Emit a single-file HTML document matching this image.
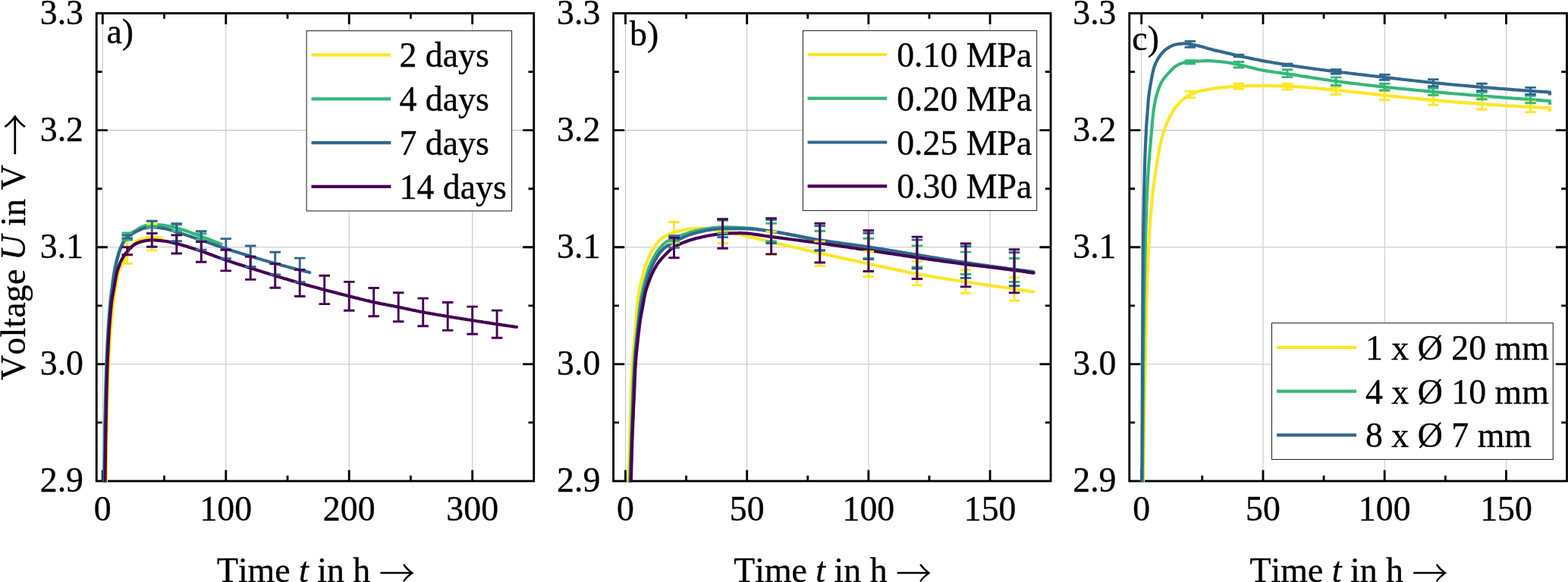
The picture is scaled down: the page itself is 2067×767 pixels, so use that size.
<!DOCTYPE html>
<html lang="en"><head><meta charset="utf-8"><title>Voltage over time</title>
<style>html,body{margin:0;padding:0;background:#fff;overflow:hidden}svg{display:block}text{font-family:"Liberation Serif","DejaVu Serif",serif;font-size:45.83px;fill:#000;font-kerning:none;stroke:#000;stroke-width:0.35px;stroke-linejoin:round}.sp{stroke:#000;stroke-width:2.85;fill:none;stroke-linecap:square}.tk{stroke:#000;stroke-width:2.85;fill:none;stroke-linecap:butt}.gr{stroke:#c4c4c4;stroke-width:1.05;fill:none}.cv{fill:none;stroke-width:4.17;stroke-linecap:round;stroke-linejoin:round}.hk{fill:none;stroke-width:4.17;stroke-linecap:butt}.eb{fill:none;stroke-width:2.90;stroke-linecap:butt}.lg{fill:#fff;stroke:#262626;stroke-width:1.05}.ll{fill:none;stroke-width:4.17;stroke-linecap:square}.ar{font-family:"Noto Serif CJK SC","DejaVu Math TeX Gyre","DejaVu Serif",serif;stroke:#000;stroke-width:0.3px;font-size:47px}.ar2{font-size:55.5px}</style></head><body>
<svg width="2067" height="767" viewBox="0 0 2067 767">
<rect width="2067" height="767" fill="#fff"/>
<defs>
<clipPath id="clip-a"><rect x="127.25" y="17.5" width="576.5" height="617.9"/></clipPath>
<clipPath id="clip-b"><rect x="808.6" y="17.5" width="576.5" height="617.9"/></clipPath>
<clipPath id="clip-c"><rect x="1488.8" y="17.5" width="576.7" height="617.9"/></clipPath>
</defs>
<g id="panel-a">
<path class="gr" d="M135.3,17.5V634.0M297.8,17.5V634.0M460.2,17.5V634.0M622.7,17.5V634.0M127.25,479.9H703.8M127.25,325.7H703.8M127.25,171.6H703.8"/>
<path class="tk" d="M135.3,634.0v-14.6M135.3,17.5v14.6M297.8,634.0v-14.6M297.8,17.5v14.6M460.2,634.0v-14.6M460.2,17.5v14.6M622.7,634.0v-14.6M622.7,17.5v14.6M216.5,634.0v-7.3M216.5,17.5v7.3M379.0,634.0v-7.3M379.0,17.5v7.3M541.4,634.0v-7.3M541.4,17.5v7.3M127.25,479.9h14.6M703.8,479.9h-14.6M127.25,325.7h14.6M703.8,325.7h-14.6M127.25,171.6h14.6M703.8,171.6h-14.6M127.25,556.9h7.3M703.8,556.9h-7.3M127.25,402.8h7.3M703.8,402.8h-7.3M127.25,248.7h7.3M703.8,248.7h-7.3M127.25,94.6h7.3M703.8,94.6h-7.3"/>
<rect class="sp" x="127.25" y="17.5" width="576.5" height="616.5"/>
<g clip-path="url(#clip-a)">
<path class="cv" stroke="#fde725" d="M140.0,640.0 L140.0,639.1 L140.0,638.2 L140.0,637.3 L140.0,636.4 L140.0,635.4 L140.0,634.5 L140.0,633.6 L140.0,632.7 L140.0,631.8 L140.0,630.9 L140.0,630.0 L140.0,629.1 L140.0,628.1 L140.0,627.2 L140.0,626.3 L140.0,625.4 L140.0,624.5 L140.0,623.6 L140.1,622.7 L140.1,621.8 L140.1,620.8 L140.1,619.9 L140.1,619.0 L140.1,618.1 L140.1,617.2 L140.1,616.3 L140.1,615.4 L140.1,614.5 L140.1,613.6 L140.1,612.6 L140.1,611.7 L140.1,610.8 L140.1,609.9 L140.2,609.0 L140.2,608.1 L140.2,607.2 L140.2,606.3 L140.2,605.3 L140.2,604.4 L140.2,603.5 L140.2,602.6 L140.2,601.7 L140.2,600.8 L140.3,599.9 L140.3,599.0 L140.3,598.0 L140.3,597.1 L140.3,596.2 L140.3,595.3 L140.3,594.4 L140.3,593.5 L140.3,592.6 L140.3,591.7 L140.4,590.8 L140.4,589.8 L140.4,588.9 L140.4,588.0 L140.4,587.1 L140.4,586.2 L140.4,585.3 L140.4,584.4 L140.5,583.5 L140.5,582.5 L140.5,581.6 L140.5,580.7 L140.5,579.8 L140.5,578.9 L140.5,578.0 L140.5,577.1 L140.6,576.2 L140.6,575.2 L140.6,574.3 L140.6,573.4 L140.6,572.5 L140.6,571.6 L140.6,570.7 L140.7,569.8 L140.7,568.9 L140.7,568.0 L140.7,567.0 L140.7,566.1 L140.7,565.2 L140.7,564.3 L140.7,563.4 L140.8,562.5 L140.8,561.6 L140.8,560.7 L140.8,559.7 L140.8,558.8 L140.8,557.9 L140.8,557.0 L140.9,556.1 L140.9,555.2 L140.9,554.3 L140.9,553.4 L140.9,552.5 L140.9,551.5 L141.0,550.6 L141.0,549.7 L141.0,548.8 L141.0,547.9 L141.0,547.0 L141.0,546.1 L141.1,545.2 L141.1,544.2 L141.1,543.3 L141.1,542.4 L141.1,541.5 L141.2,540.6 L141.2,539.7 L141.2,538.8 L141.2,537.9 L141.3,537.0 L141.3,536.0 L141.3,535.1 L141.3,534.2 L141.3,533.3 L141.4,532.4 L141.4,531.5 L141.4,530.6 L141.4,529.7 L141.5,528.7 L141.5,527.8 L141.5,526.9 L141.5,526.0 L141.6,525.1 L141.6,524.2 L141.6,523.3 L141.7,522.4 L141.7,521.4 L141.7,520.5 L141.7,519.6 L141.8,518.7 L141.8,517.8 L141.8,516.9 L141.8,516.0 L141.9,515.1 L141.9,514.2 L141.9,513.2 L142.0,512.3 L142.0,511.4 L142.0,510.5 L142.1,509.6 L142.1,508.7 L142.1,507.8 L142.2,506.9 L142.2,506.0 L142.2,505.0 L142.2,504.1 L142.3,503.2 L142.3,502.3 L142.3,501.4 L142.4,500.5 L142.4,499.6 L142.4,498.7 L142.5,497.7 L142.5,496.8 L142.6,495.9 L142.6,495.0 L142.6,494.1 L142.7,493.2 L142.7,492.3 L142.7,491.4 L142.8,490.5 L142.8,489.5 L142.8,488.6 L142.9,487.7 L142.9,486.8 L143.0,485.9 L143.0,485.0 L143.0,484.1 L143.1,483.2 L143.1,482.3 L143.1,481.4 L143.2,480.4 L143.2,479.5 L143.3,478.6 L143.3,477.7 L143.3,476.8 L143.4,475.9 L143.4,475.0 L143.5,474.1 L143.5,473.2 L143.6,472.2 L143.6,471.3 L143.6,470.4 L143.7,469.5 L143.7,468.6 L143.8,467.7 L143.8,466.8 L143.9,465.9 L143.9,465.0 L144.0,464.0 L144.0,463.1 L144.1,462.2 L144.1,461.3 L144.2,460.4 L144.2,459.5 L144.3,458.6 L144.4,457.7 L144.4,456.8 L144.5,455.8 L144.5,454.9 L144.6,454.0 L144.6,453.1 L144.7,452.2 L144.8,451.3 L144.8,450.4 L144.9,449.5 L144.9,448.6 L145.0,447.6 L145.1,446.7 L145.1,445.8 L145.2,444.9 L145.3,444.0 L145.3,443.1 L145.4,442.2 L145.4,441.3 L145.5,440.4 L145.6,439.5 L145.7,438.5 L145.7,437.6 L145.8,436.7 L145.9,435.8 L145.9,434.9 L146.0,434.0 L146.1,433.1 L146.2,432.2 L146.2,431.3 L146.3,430.4 L146.4,429.4 L146.5,428.5 L146.5,427.6 L146.6,426.7 L146.7,425.8 L146.8,424.9 L146.8,424.0 L146.9,423.1 L147.0,422.2 L147.1,421.3 L147.2,420.4 L147.3,419.4 L147.3,418.5 L147.4,417.6 L147.5,416.7 L147.6,415.8 L147.7,414.9 L147.8,414.0 L147.9,413.1 L147.9,412.2 L148.0,411.3 L148.1,410.4 L148.2,409.5 L148.3,408.6 L148.4,407.7 L148.5,406.7 L148.6,405.8 L148.7,404.9 L148.8,404.0 L148.9,403.1 L149.0,402.2 L149.1,401.3 L149.2,400.4 L149.3,399.5 L149.4,398.6 L149.5,397.7 L149.6,396.8 L149.7,395.9 L149.8,395.0 L150.0,394.1 L150.1,393.2 L150.2,392.3 L150.4,391.4 L150.5,390.5 L150.7,389.6 L150.8,388.7 L151.0,387.8 L151.1,386.9 L151.3,386.0 L151.4,385.1 L151.6,384.2 L151.7,383.3 L151.9,382.4 L152.0,381.5 L152.2,380.6 L152.4,379.7 L152.5,378.8 L152.6,377.9 L152.8,377.0 L152.9,376.1 L153.1,375.2 L153.2,374.2 L153.4,373.3 L153.5,372.4 L153.7,371.5 L153.8,370.6 L154.0,369.7 L154.1,368.8 L154.3,367.9 L154.4,367.0 L154.6,366.1 L154.8,365.2 L155.0,364.3 L155.2,363.4 L155.4,362.6 L155.6,361.7 L155.8,360.8 L156.0,360.0 L156.3,359.1 L156.5,358.2 L156.8,357.4 L157.2,356.6 L157.5,355.7 L157.9,354.9 L158.3,354.0 L158.7,353.2 L159.1,352.4 L159.5,351.6 L159.9,350.7 L160.3,349.9 L160.7,349.1 L161.1,348.3 L161.5,347.4 L161.9,346.6 L162.3,345.8 L162.7,344.9 L163.0,344.1 L163.4,343.2 L163.7,342.4 L164.1,341.5 L164.4,340.7 L164.8,339.8 L165.1,339.0 L165.5,338.1 L165.8,337.3 L166.2,336.5 L166.6,335.7 L167.0,334.9 L167.4,334.1 L167.8,333.3 L168.3,332.5 L168.7,331.7 L169.2,330.9 L169.7,330.1 L170.2,329.3 L170.7,328.4 L171.2,327.6 L171.7,326.8 L172.2,326.0 L172.8,325.2 L173.4,324.4 L173.9,323.6 L174.5,322.9 L175.1,322.2 L175.7,321.5 L176.3,320.8 L176.9,320.2 L177.6,319.6 L178.2,319.0 L178.9,318.5 L179.6,318.0 L180.3,317.6 L181.0,317.2 L181.8,316.9 L182.6,316.5 L183.5,316.2 L184.4,315.8 L185.3,315.5 L186.2,315.3 L187.1,315.0 L188.0,314.8 L188.9,314.5 L189.8,314.3 L190.7,314.2 L191.6,314.0 L192.5,313.8 L193.4,313.6 L194.3,313.4 L195.2,313.3 L196.1,313.1 L197.0,313.0 L197.9,312.9 L198.8,312.9 L199.7,312.8 L200.7,312.8 L201.6,312.8 L202.5,312.8 L203.4,312.8 L204.3,312.8 L205.2,312.9 L206.1,312.9 L207.0,312.9 L207.9,313.0 L208.8,313.0 L209.7,313.1 L210.7,313.2 L211.6,313.3 L212.5,313.5 L213.4,313.6"/>
<path class="cv" stroke="#35b779" d="M137.2,640.0 L137.2,638.8 L137.2,637.7 L137.2,636.5 L137.2,635.3 L137.2,634.2 L137.2,633.0 L137.3,631.9 L137.3,630.7 L137.3,629.5 L137.3,628.4 L137.3,627.2 L137.3,626.0 L137.3,624.9 L137.3,623.7 L137.3,622.5 L137.4,621.4 L137.4,620.2 L137.4,619.0 L137.4,617.9 L137.4,616.7 L137.4,615.6 L137.4,614.4 L137.4,613.2 L137.4,612.1 L137.5,610.9 L137.5,609.7 L137.5,608.6 L137.5,607.4 L137.5,606.2 L137.5,605.1 L137.5,603.9 L137.6,602.8 L137.6,601.6 L137.6,600.4 L137.6,599.3 L137.6,598.1 L137.6,596.9 L137.7,595.8 L137.7,594.6 L137.7,593.4 L137.7,592.3 L137.7,591.1 L137.7,590.0 L137.7,588.8 L137.8,587.6 L137.8,586.5 L137.8,585.3 L137.8,584.1 L137.8,583.0 L137.9,581.8 L137.9,580.6 L137.9,579.5 L137.9,578.3 L137.9,577.2 L137.9,576.0 L138.0,574.8 L138.0,573.7 L138.0,572.5 L138.0,571.3 L138.0,570.2 L138.1,569.0 L138.1,567.8 L138.1,566.7 L138.1,565.5 L138.1,564.3 L138.1,563.2 L138.2,562.0 L138.2,560.9 L138.2,559.7 L138.2,558.5 L138.2,557.4 L138.3,556.2 L138.3,555.0 L138.3,553.9 L138.3,552.7 L138.3,551.5 L138.4,550.4 L138.4,549.2 L138.4,548.1 L138.4,546.9 L138.5,545.7 L138.5,544.6 L138.5,543.4 L138.5,542.2 L138.5,541.1 L138.6,539.9 L138.6,538.7 L138.6,537.6 L138.6,536.4 L138.7,535.3 L138.7,534.1 L138.7,532.9 L138.7,531.8 L138.8,530.6 L138.8,529.4 L138.8,528.3 L138.8,527.1 L138.9,525.9 L138.9,524.8 L138.9,523.6 L139.0,522.5 L139.0,521.3 L139.0,520.1 L139.0,519.0 L139.1,517.8 L139.1,516.6 L139.1,515.5 L139.2,514.3 L139.2,513.1 L139.2,512.0 L139.2,510.8 L139.3,509.7 L139.3,508.5 L139.3,507.3 L139.4,506.2 L139.4,505.0 L139.4,503.8 L139.5,502.7 L139.5,501.5 L139.5,500.3 L139.6,499.2 L139.6,498.0 L139.6,496.9 L139.7,495.7 L139.7,494.5 L139.8,493.4 L139.8,492.2 L139.8,491.0 L139.9,489.9 L139.9,488.7 L139.9,487.5 L140.0,486.4 L140.0,485.2 L140.1,484.1 L140.1,482.9 L140.1,481.7 L140.2,480.6 L140.2,479.4 L140.3,478.2 L140.3,477.1 L140.3,475.9 L140.4,474.8 L140.4,473.6 L140.5,472.4 L140.5,471.3 L140.6,470.1 L140.6,468.9 L140.7,467.8 L140.7,466.6 L140.8,465.5 L140.8,464.3 L140.9,463.1 L140.9,462.0 L141.0,460.8 L141.0,459.6 L141.1,458.5 L141.2,457.3 L141.2,456.1 L141.3,455.0 L141.3,453.8 L141.4,452.7 L141.5,451.5 L141.5,450.3 L141.6,449.2 L141.6,448.0 L141.7,446.8 L141.8,445.7 L141.8,444.5 L141.9,443.4 L142.0,442.2 L142.0,441.0 L142.1,439.9 L142.2,438.7 L142.2,437.5 L142.3,436.4 L142.4,435.2 L142.5,434.1 L142.5,432.9 L142.6,431.7 L142.7,430.6 L142.8,429.4 L142.8,428.2 L142.9,427.1 L143.0,425.9 L143.1,424.8 L143.2,423.6 L143.2,422.4 L143.3,421.3 L143.4,420.1 L143.5,419.0 L143.6,417.8 L143.7,416.6 L143.8,415.5 L143.8,414.3 L143.9,413.2 L144.0,412.0 L144.1,410.8 L144.2,409.7 L144.3,408.5 L144.4,407.4 L144.5,406.2 L144.6,405.0 L144.7,403.9 L144.8,402.7 L144.9,401.6 L145.0,400.4 L145.1,399.2 L145.2,398.1 L145.3,396.9 L145.4,395.8 L145.5,394.6 L145.7,393.5 L145.8,392.3 L145.9,391.1 L146.1,390.0 L146.2,388.8 L146.4,387.7 L146.5,386.5 L146.7,385.4 L146.8,384.2 L147.0,383.1 L147.2,381.9 L147.3,380.8 L147.5,379.6 L147.6,378.4 L147.7,377.3 L147.9,376.1 L148.0,375.0 L148.2,373.8 L148.3,372.7 L148.5,371.5 L148.7,370.4 L148.8,369.2 L149.0,368.1 L149.1,366.9 L149.3,365.7 L149.5,364.6 L149.6,363.4 L149.8,362.3 L150.0,361.1 L150.2,360.0 L150.4,358.9 L150.6,357.7 L150.8,356.6 L151.0,355.4 L151.2,354.3 L151.5,353.1 L151.7,352.0 L151.9,350.8 L152.2,349.7 L152.4,348.6 L152.7,347.4 L152.9,346.3 L153.2,345.2 L153.5,344.0 L153.8,342.9 L154.0,341.8 L154.3,340.6 L154.6,339.5 L154.9,338.4 L155.2,337.3 L155.6,336.2 L155.9,335.0 L156.2,333.9 L156.6,332.8 L156.9,331.7 L157.3,330.6 L157.7,329.5 L158.1,328.4 L158.5,327.3 L159.0,326.2 L159.4,325.2 L159.9,324.1 L160.4,323.1 L160.9,322.0 L161.5,321.0 L162.0,319.9 L162.6,318.9 L163.2,317.8 L163.9,316.8 L164.5,315.9 L165.2,314.9 L165.9,314.0 L166.6,313.1 L167.4,312.2 L168.1,311.4 L168.9,310.6 L169.7,309.9 L170.6,309.1 L171.5,308.4 L172.5,307.7 L173.4,307.1 L174.4,306.4 L175.4,305.8 L176.5,305.1 L177.5,304.5 L178.5,303.9 L179.5,303.3 L180.5,302.7 L181.5,302.1 L182.5,301.5 L183.5,300.8 L184.5,300.2 L185.6,299.7 L186.6,299.1 L187.7,298.6 L188.7,298.2 L189.8,297.9 L190.9,297.6 L192.0,297.3 L193.1,297.0 L194.3,296.7 L195.4,296.5 L196.6,296.2 L197.8,296.1 L198.9,296.0 L200.1,295.9 L201.2,295.9 L202.4,295.9 L203.6,296.0 L204.7,296.0 L205.9,296.1 L207.1,296.2 L208.2,296.2 L209.4,296.3 L210.5,296.4 L211.7,296.6 L212.9,296.7 L214.0,296.8 L215.2,296.9 L216.3,297.0 L217.5,297.2 L218.6,297.3 L219.8,297.5 L220.9,297.7 L222.1,297.9 L223.2,298.2 L224.4,298.4 L225.5,298.7 L226.6,298.9 L227.8,299.2 L228.9,299.5 L230.0,299.8 L231.2,300.1 L232.3,300.3 L233.4,300.6 L234.5,300.9 L235.7,301.2 L236.8,301.5 L237.9,301.9 L239.0,302.2 L240.1,302.6 L241.2,302.9 L242.3,303.3 L243.4,303.6 L244.5,304.0 L245.6,304.4 L246.7,304.8 L247.8,305.2 L248.9,305.6 L250.0,306.0 L251.1,306.4 L252.2,306.8 L253.3,307.2 L254.4,307.6 L255.5,308.0 L256.6,308.4 L257.7,308.8 L258.8,309.2 L259.9,309.6 L261.0,310.1 L262.0,310.5 L263.1,310.9 L264.2,311.3 L265.3,311.7 L266.4,312.1 L267.5,312.5 L268.6,312.9 L269.7,313.3 L270.8,313.7 L271.9,314.1 L273.0,314.5 L274.1,314.9 L275.1,315.3 L276.2,315.7 L277.3,316.2 L278.4,316.6 L279.5,317.0 L280.6,317.4 L281.7,317.8 L282.7,318.3 L283.8,318.7 L284.9,319.1 L286.0,319.5 L287.1,320.0 L288.2,320.4 L289.2,320.8 L290.3,321.3 L291.4,321.7"/>
<path class="cv" stroke="#31688e" d="M137.6,640.0 L137.6,638.5 L137.6,637.1 L137.6,635.6 L137.7,634.1 L137.7,632.7 L137.7,631.2 L137.7,629.8 L137.7,628.3 L137.7,626.8 L137.7,625.4 L137.8,623.9 L137.8,622.4 L137.8,621.0 L137.8,619.5 L137.8,618.1 L137.8,616.6 L137.9,615.1 L137.9,613.7 L137.9,612.2 L137.9,610.7 L137.9,609.3 L137.9,607.8 L138.0,606.3 L138.0,604.9 L138.0,603.4 L138.0,602.0 L138.0,600.5 L138.1,599.0 L138.1,597.6 L138.1,596.1 L138.1,594.6 L138.2,593.2 L138.2,591.7 L138.2,590.3 L138.2,588.8 L138.2,587.3 L138.3,585.9 L138.3,584.4 L138.3,582.9 L138.3,581.5 L138.4,580.0 L138.4,578.6 L138.4,577.1 L138.4,575.6 L138.5,574.2 L138.5,572.7 L138.5,571.2 L138.5,569.8 L138.6,568.3 L138.6,566.9 L138.6,565.4 L138.6,563.9 L138.7,562.5 L138.7,561.0 L138.7,559.5 L138.7,558.1 L138.8,556.6 L138.8,555.1 L138.8,553.7 L138.8,552.2 L138.9,550.8 L138.9,549.3 L138.9,547.8 L139.0,546.4 L139.0,544.9 L139.0,543.4 L139.0,542.0 L139.1,540.5 L139.1,539.1 L139.1,537.6 L139.2,536.1 L139.2,534.7 L139.2,533.2 L139.3,531.7 L139.3,530.3 L139.3,528.8 L139.4,527.4 L139.4,525.9 L139.4,524.4 L139.5,523.0 L139.5,521.5 L139.5,520.0 L139.6,518.6 L139.6,517.1 L139.6,515.6 L139.7,514.2 L139.7,512.7 L139.7,511.3 L139.8,509.8 L139.8,508.3 L139.9,506.9 L139.9,505.4 L139.9,503.9 L140.0,502.5 L140.0,501.0 L140.1,499.6 L140.1,498.1 L140.2,496.6 L140.2,495.2 L140.2,493.7 L140.3,492.2 L140.3,490.8 L140.4,489.3 L140.4,487.9 L140.5,486.4 L140.5,484.9 L140.6,483.5 L140.6,482.0 L140.7,480.6 L140.7,479.1 L140.8,477.6 L140.8,476.2 L140.9,474.7 L141.0,473.2 L141.0,471.8 L141.1,470.3 L141.1,468.9 L141.2,467.4 L141.3,465.9 L141.3,464.5 L141.4,463.0 L141.5,461.5 L141.5,460.1 L141.6,458.6 L141.7,457.2 L141.8,455.7 L141.8,454.2 L141.9,452.8 L142.0,451.3 L142.1,449.9 L142.1,448.4 L142.2,446.9 L142.3,445.5 L142.4,444.0 L142.5,442.5 L142.6,441.1 L142.7,439.6 L142.8,438.2 L142.8,436.7 L142.9,435.2 L143.0,433.8 L143.1,432.3 L143.2,430.9 L143.3,429.4 L143.4,427.9 L143.5,426.5 L143.6,425.0 L143.7,423.6 L143.8,422.1 L143.9,420.6 L144.1,419.2 L144.2,417.7 L144.3,416.3 L144.4,414.8 L144.5,413.3 L144.6,411.9 L144.7,410.4 L144.8,409.0 L145.0,407.5 L145.1,406.1 L145.2,404.6 L145.3,403.1 L145.5,401.7 L145.6,400.2 L145.7,398.8 L145.9,397.3 L146.0,395.9 L146.2,394.4 L146.3,393.0 L146.5,391.5 L146.7,390.1 L146.9,388.6 L147.1,387.1 L147.3,385.7 L147.4,384.2 L147.6,382.8 L147.8,381.3 L148.0,379.9 L148.2,378.4 L148.4,377.0 L148.6,375.5 L148.8,374.1 L149.0,372.6 L149.1,371.2 L149.3,369.7 L149.5,368.3 L149.7,366.8 L150.0,365.4 L150.2,363.9 L150.4,362.5 L150.6,361.1 L150.9,359.6 L151.1,358.2 L151.4,356.7 L151.6,355.3 L151.9,353.8 L152.2,352.4 L152.5,351.0 L152.8,349.5 L153.1,348.1 L153.4,346.7 L153.7,345.2 L154.0,343.8 L154.4,342.4 L154.7,341.0 L155.1,339.6 L155.5,338.2 L155.9,336.7 L156.3,335.3 L156.7,333.9 L157.2,332.5 L157.6,331.1 L158.1,329.7 L158.6,328.3 L159.2,327.0 L159.7,325.7 L160.3,324.3 L160.9,323.0 L161.6,321.7 L162.3,320.3 L163.0,319.0 L163.8,317.7 L164.6,316.4 L165.5,315.2 L166.4,314.1 L167.3,313.0 L168.2,312.1 L169.3,311.2 L170.4,310.3 L171.6,309.5 L172.9,308.7 L174.2,308.0 L175.5,307.3 L176.9,306.6 L178.2,305.9 L179.5,305.2 L180.8,304.6 L182.1,303.9 L183.5,303.3 L184.8,302.6 L186.2,302.0 L187.5,301.5 L188.9,301.1 L190.3,300.7 L191.7,300.4 L193.2,300.2 L194.6,299.9 L196.1,299.7 L197.6,299.5 L199.0,299.4 L200.5,299.4 L201.9,299.4 L203.4,299.5 L204.9,299.6 L206.3,299.7 L207.8,299.9 L209.2,300.0 L210.7,300.2 L212.2,300.4 L213.6,300.6 L215.0,300.9 L216.5,301.1 L217.9,301.3 L219.3,301.6 L220.7,302.0 L222.2,302.4 L223.6,302.8 L225.0,303.2 L226.4,303.7 L227.8,304.1 L229.2,304.6 L230.6,305.1 L232.0,305.5 L233.4,305.9 L234.8,306.4 L236.2,306.8 L237.5,307.2 L238.9,307.7 L240.3,308.1 L241.7,308.6 L243.1,309.0 L244.5,309.5 L245.9,309.9 L247.3,310.4 L248.7,310.9 L250.1,311.3 L251.5,311.8 L252.8,312.3 L254.2,312.7 L255.6,313.2 L257.0,313.7 L258.4,314.1 L259.8,314.6 L261.2,315.1 L262.5,315.5 L263.9,316.0 L265.3,316.5 L266.7,316.9 L268.1,317.4 L269.5,317.9 L270.9,318.4 L272.2,318.8 L273.6,319.3 L275.0,319.8 L276.4,320.3 L277.8,320.8 L279.1,321.3 L280.5,321.7 L281.9,322.2 L283.3,322.7 L284.7,323.2 L286.1,323.7 L287.4,324.2 L288.8,324.6 L290.2,325.1 L291.6,325.6 L293.0,326.1 L294.4,326.5 L295.7,327.0 L297.1,327.4 L298.5,327.9 L299.9,328.4 L301.3,328.8 L302.7,329.3 L304.1,329.7 L305.5,330.1 L306.9,330.6 L308.3,331.0 L309.7,331.5 L311.1,331.9 L312.5,332.3 L313.9,332.8 L315.3,333.2 L316.7,333.6 L318.1,334.1 L319.5,334.5 L320.9,334.9 L322.3,335.3 L323.7,335.8 L325.1,336.2 L326.5,336.6 L327.9,337.0 L329.3,337.5 L330.7,337.9 L332.1,338.3 L333.5,338.7 L334.9,339.1 L336.3,339.6 L337.7,340.0 L339.1,340.4 L340.5,340.8 L341.9,341.2 L343.3,341.6 L344.7,342.0 L346.1,342.4 L347.5,342.9 L348.9,343.3 L350.3,343.7 L351.7,344.1 L353.1,344.5 L354.5,344.9 L355.9,345.3 L357.3,345.7 L358.8,346.1 L360.2,346.5 L361.6,346.9 L363.0,347.2 L364.4,347.6 L365.8,348.0 L367.2,348.4 L368.6,348.8 L370.0,349.2 L371.4,349.6 L372.9,349.9 L374.3,350.3 L375.7,350.7 L377.1,351.1 L378.5,351.5 L379.9,351.8 L381.3,352.2 L382.8,352.6 L384.2,352.9 L385.6,353.3 L387.0,353.7 L388.4,354.0 L389.8,354.4 L391.3,354.8 L392.7,355.1 L394.1,355.5 L395.5,355.9 L396.9,356.2 L398.4,356.6 L399.8,356.9 L401.2,357.3 L402.6,357.6 L404.0,358.0 L405.5,358.3 L406.9,358.7 L408.3,359.0"/>
<path class="cv" stroke="#440154" d="M138.5,640.0 L138.5,637.9 L138.5,635.8 L138.6,633.6 L138.6,631.5 L138.6,629.4 L138.6,627.3 L138.6,625.2 L138.7,623.0 L138.7,620.9 L138.7,618.8 L138.7,616.7 L138.8,614.6 L138.8,612.5 L138.8,610.3 L138.8,608.2 L138.9,606.1 L138.9,604.0 L138.9,601.9 L139.0,599.7 L139.0,597.6 L139.0,595.5 L139.1,593.4 L139.1,591.3 L139.1,589.2 L139.1,587.0 L139.2,584.9 L139.2,582.8 L139.2,580.7 L139.3,578.6 L139.3,576.4 L139.4,574.3 L139.4,572.2 L139.4,570.1 L139.5,568.0 L139.5,565.8 L139.5,563.7 L139.6,561.6 L139.6,559.5 L139.6,557.4 L139.7,555.3 L139.7,553.1 L139.8,551.0 L139.8,548.9 L139.8,546.8 L139.9,544.7 L139.9,542.5 L140.0,540.4 L140.0,538.3 L140.1,536.2 L140.1,534.1 L140.1,531.9 L140.2,529.8 L140.2,527.7 L140.3,525.6 L140.3,523.5 L140.4,521.4 L140.4,519.2 L140.5,517.1 L140.5,515.0 L140.6,512.9 L140.6,510.8 L140.7,508.6 L140.8,506.5 L140.8,504.4 L140.9,502.3 L140.9,500.2 L141.0,498.1 L141.1,495.9 L141.1,493.8 L141.2,491.7 L141.3,489.6 L141.3,487.5 L141.4,485.4 L141.5,483.2 L141.6,481.1 L141.6,479.0 L141.7,476.9 L141.8,474.8 L141.9,472.6 L142.0,470.5 L142.1,468.4 L142.2,466.3 L142.3,464.2 L142.4,462.1 L142.5,459.9 L142.6,457.8 L142.7,455.7 L142.8,453.6 L142.9,451.5 L143.0,449.3 L143.1,447.2 L143.3,445.1 L143.4,443.0 L143.5,440.9 L143.7,438.8 L143.8,436.6 L143.9,434.5 L144.1,432.4 L144.2,430.3 L144.4,428.2 L144.6,426.1 L144.7,423.9 L144.9,421.8 L145.1,419.7 L145.2,417.6 L145.4,415.5 L145.6,413.4 L145.8,411.3 L146.0,409.2 L146.2,407.1 L146.4,405.0 L146.6,402.9 L146.8,400.8 L147.0,398.7 L147.3,396.6 L147.6,394.5 L148.0,392.4 L148.3,390.3 L148.7,388.2 L149.1,386.1 L149.5,384.0 L149.9,381.9 L150.2,379.9 L150.6,377.8 L150.9,375.7 L151.3,373.6 L151.6,371.5 L152.0,369.4 L152.4,367.3 L152.8,365.2 L153.2,363.1 L153.6,361.1 L154.1,359.0 L154.7,357.0 L155.3,355.0 L156.0,352.9 L156.7,350.9 L157.5,348.9 L158.2,347.0 L159.1,345.0 L160.0,343.1 L161.0,341.3 L162.0,339.4 L163.2,337.6 L164.3,335.8 L165.5,334.1 L166.9,332.5 L168.2,330.8 L169.6,329.2 L171.0,327.7 L172.6,326.2 L174.2,324.7 L175.8,323.3 L177.6,322.1 L179.4,321.1 L181.2,320.2 L183.2,319.4 L185.2,318.8 L187.3,318.2 L189.4,317.7 L191.5,317.3 L193.6,317.0 L195.7,316.7 L197.8,316.5 L199.9,316.4 L202.0,316.4 L204.1,316.5 L206.3,316.6 L208.4,316.8 L210.5,317.0 L212.6,317.2 L214.7,317.5 L216.8,317.7 L218.9,318.0 L221.0,318.4 L223.1,318.8 L225.1,319.2 L227.2,319.7 L229.3,320.2 L231.3,320.7 L233.4,321.2 L235.4,321.7 L237.5,322.3 L239.5,322.8 L241.6,323.4 L243.6,324.0 L245.6,324.6 L247.7,325.3 L249.7,325.9 L251.7,326.6 L253.7,327.2 L255.7,327.9 L257.7,328.5 L259.8,329.2 L261.8,329.9 L263.8,330.6 L265.8,331.2 L267.8,331.9 L269.8,332.6 L271.8,333.3 L273.8,334.0 L275.8,334.7 L277.8,335.5 L279.8,336.2 L281.7,336.9 L283.7,337.7 L285.7,338.4 L287.7,339.2 L289.7,339.9 L291.7,340.6 L293.7,341.3 L295.7,342.0 L297.7,342.7 L299.7,343.4 L301.7,344.1 L303.7,344.7 L305.7,345.4 L307.7,346.1 L309.7,346.7 L311.8,347.4 L313.8,348.0 L315.8,348.7 L317.8,349.3 L319.8,350.0 L321.9,350.6 L323.9,351.2 L325.9,351.9 L327.9,352.5 L329.9,353.2 L332.0,353.8 L334.0,354.4 L336.0,355.1 L338.0,355.7 L340.0,356.3 L342.1,357.0 L344.1,357.6 L346.1,358.3 L348.1,358.9 L350.1,359.5 L352.2,360.1 L354.2,360.8 L356.2,361.4 L358.2,362.0 L360.3,362.6 L362.3,363.2 L364.3,363.9 L366.4,364.5 L368.4,365.1 L370.4,365.7 L372.4,366.3 L374.5,366.9 L376.5,367.5 L378.5,368.1 L380.6,368.7 L382.6,369.3 L384.6,369.9 L386.7,370.5 L388.7,371.1 L390.7,371.7 L392.8,372.3 L394.8,372.9 L396.8,373.4 L398.9,374.0 L400.9,374.6 L403.0,375.2 L405.0,375.7 L407.1,376.3 L409.1,376.9 L411.1,377.4 L413.2,378.0 L415.2,378.5 L417.3,379.1 L419.3,379.6 L421.4,380.2 L423.4,380.7 L425.5,381.3 L427.5,381.8 L429.6,382.4 L431.6,382.9 L433.7,383.5 L435.7,384.0 L437.7,384.5 L439.8,385.1 L441.8,385.6 L443.9,386.1 L446.0,386.7 L448.0,387.2 L450.1,387.7 L452.1,388.3 L454.2,388.8 L456.2,389.3 L458.3,389.8 L460.3,390.3 L462.4,390.8 L464.4,391.4 L466.5,391.9 L468.5,392.4 L470.6,392.9 L472.7,393.4 L474.7,393.9 L476.8,394.5 L478.8,395.0 L480.9,395.5 L482.9,396.0 L485.0,396.4 L487.1,396.9 L489.1,397.4 L491.2,397.9 L493.3,398.3 L495.3,398.8 L497.4,399.2 L499.5,399.6 L501.6,400.1 L503.6,400.5 L505.7,400.9 L507.8,401.3 L509.9,401.7 L512.0,402.1 L514.0,402.5 L516.1,402.9 L518.2,403.3 L520.3,403.7 L522.4,404.1 L524.4,404.5 L526.5,405.0 L528.6,405.4 L530.7,405.8 L532.7,406.3 L534.8,406.7 L536.9,407.1 L539.0,407.6 L541.0,408.0 L543.1,408.5 L545.2,408.9 L547.3,409.3 L549.3,409.8 L551.4,410.2 L553.5,410.6 L555.6,411.0 L557.6,411.4 L559.7,411.8 L561.8,412.2 L563.9,412.5 L566.0,412.9 L568.1,413.3 L570.2,413.6 L572.2,414.0 L574.3,414.4 L576.4,414.7 L578.5,415.1 L580.6,415.4 L582.7,415.8 L584.8,416.1 L586.9,416.5 L589.0,416.8 L591.0,417.2 L593.1,417.5 L595.2,417.8 L597.3,418.2 L599.4,418.5 L601.5,418.9 L603.6,419.2 L605.7,419.5 L607.8,419.9 L609.9,420.2 L612.0,420.5 L614.1,420.9 L616.2,421.2 L618.2,421.5 L620.3,421.8 L622.4,422.2 L624.5,422.5 L626.6,422.8 L628.7,423.2 L630.8,423.5 L632.9,423.8 L635.0,424.1 L637.1,424.5 L639.2,424.8 L641.3,425.1 L643.4,425.4 L645.5,425.7 L647.6,426.1 L649.7,426.4 L651.7,426.7 L653.8,427.0 L655.9,427.3 L658.0,427.6 L660.1,427.9 L662.2,428.3 L664.3,428.6 L666.4,428.9 L668.5,429.2 L670.6,429.5 L672.7,429.8 L674.8,430.1 L676.9,430.4 L679.0,430.7 L681.1,431.0"/>
<path class="eb" stroke="#fde725" d="M167.8,315.5V347.3M160.5,315.5h14.5M160.5,347.3h14.5M200.3,295.3V329.9M193.0,295.3h14.5M193.0,329.9h14.5"/>
<path class="eb" stroke="#35b779" d="M167.8,307.0V316.4M160.5,307.0h14.5M160.5,316.4h14.5M200.3,291.5V299.5M193.0,291.5h14.5M193.0,299.5h14.5M232.8,296.0V304.5M225.5,296.0h14.5M225.5,304.5h14.5M265.3,308.0V315.5M258.0,308.0h14.5M258.0,315.5h14.5"/>
<path class="eb" stroke="#31688e" d="M167.8,310.0V314.0M160.5,310.0h14.5M160.5,314.0h14.5M200.3,291.2V307.6M193.0,291.2h14.5M193.0,307.6h14.5M232.8,294.7V317.8M225.5,294.7h14.5M225.5,317.8h14.5M265.3,304.7V329.3M258.0,304.7h14.5M258.0,329.3h14.5M297.8,314.6V340.7M290.5,314.6h14.5M290.5,340.7h14.5M330.2,324.0V351.5M323.0,324.0h14.5M323.0,351.5h14.5M362.7,332.3V362.0M355.5,332.3h14.5M355.5,362.0h14.5M395.2,340.1V371.6M388.0,340.1h14.5M388.0,371.6h14.5"/>
<path class="eb" stroke="#440154" d="M167.8,325.8V335.8M160.5,325.8h14.5M160.5,335.8h14.5M200.3,307.6V325.2M193.0,307.6h14.5M193.0,325.2h14.5M232.8,309.9V334.0M225.5,309.9h14.5M225.5,334.0h14.5M265.3,318.5V345.2M258.0,318.5h14.5M258.0,345.2h14.5M297.8,329.2V356.9M290.5,329.2h14.5M290.5,356.9h14.5M330.2,338.2V368.4M323.0,338.2h14.5M323.0,368.4h14.5M362.7,347.6V379.3M355.5,347.6h14.5M355.5,379.3h14.5M395.2,355.5V390.5M388.0,355.5h14.5M388.0,390.5h14.5M427.7,363.2V400.6M420.5,363.2h14.5M420.5,400.6h14.5M460.2,371.4V409.3M453.0,371.4h14.5M453.0,409.3h14.5M492.7,379.5V416.8M485.4,379.5h14.5M485.4,416.8h14.5M525.2,385.7V423.7M517.9,385.7h14.5M517.9,423.7h14.5M557.7,393.1V429.8M550.4,393.1h14.5M550.4,429.8h14.5M590.2,398.5V435.4M582.9,398.5h14.5M582.9,435.4h14.5M622.7,404.1V440.2M615.4,404.1h14.5M615.4,440.2h14.5M655.1,409.1V445.2M647.9,409.1h14.5M647.9,445.2h14.5"/>
</g>
<text transform="translate(135.3 685.8) scale(1 1.035)" text-anchor="middle">0</text>
<text transform="translate(297.8 685.8) scale(1 1.035)" text-anchor="middle">100</text>
<text transform="translate(460.2 685.8) scale(1 1.035)" text-anchor="middle">200</text>
<text transform="translate(622.7 685.8) scale(1 1.035)" text-anchor="middle">300</text>
<text transform="translate(110.0 648.4) scale(1 1.035)" text-anchor="end">2.9</text>
<text transform="translate(110.0 494.3) scale(1 1.035)" text-anchor="end">3.0</text>
<text transform="translate(110.0 340.1) scale(1 1.035)" text-anchor="end">3.1</text>
<text transform="translate(110.0 186.0) scale(1 1.035)" text-anchor="end">3.2</text>
<text transform="translate(110.0 31.9) scale(1 1.035)" text-anchor="end">3.3</text>
<text transform="translate(140.5 57.0) scale(1 1.02)">a)</text>
<text transform="translate(416.3 766.5) scale(1 1.02)" text-anchor="middle">Time <tspan font-style="italic">t</tspan> in h <tspan class="ar" dy="6.3">→</tspan></text>
<rect class="lg" x="404.1" y="40.6" width="270.5" height="237.4"/>
<path class="ll" stroke="#fde725" d="M412.6,72.4H513.3"/>
<text transform="translate(526.5 88.4) scale(1 1.02)">2 days</text>
<path class="ll" stroke="#35b779" d="M412.6,130.3H513.3"/>
<text transform="translate(526.5 146.3) scale(1 1.02)">4 days</text>
<path class="ll" stroke="#31688e" d="M412.6,188.1H513.3"/>
<text transform="translate(526.5 204.1) scale(1 1.02)">7 days</text>
<path class="ll" stroke="#440154" d="M412.6,245.8H513.3"/>
<text transform="translate(526.5 261.8) scale(1 1.02)">14 days</text>
</g>
<g id="panel-b">
<path class="gr" d="M824.5,17.5V634.0M984.7,17.5V634.0M1144.9,17.5V634.0M1305.1,17.5V634.0M808.6,479.9H1385.1M808.6,325.7H1385.1M808.6,171.6H1385.1"/>
<path class="tk" d="M824.5,634.0v-14.6M824.5,17.5v14.6M984.7,634.0v-14.6M984.7,17.5v14.6M1144.9,634.0v-14.6M1144.9,17.5v14.6M1305.1,634.0v-14.6M1305.1,17.5v14.6M904.6,634.0v-7.3M904.6,17.5v7.3M1064.8,634.0v-7.3M1064.8,17.5v7.3M1225.0,634.0v-7.3M1225.0,17.5v7.3M808.6,479.9h14.6M1385.1,479.9h-14.6M808.6,325.7h14.6M1385.1,325.7h-14.6M808.6,171.6h14.6M1385.1,171.6h-14.6M808.6,556.9h7.3M1385.1,556.9h-7.3M808.6,402.8h7.3M1385.1,402.8h-7.3M808.6,248.7h7.3M1385.1,248.7h-7.3M808.6,94.6h7.3M1385.1,94.6h-7.3"/>
<rect class="sp" x="808.6" y="17.5" width="576.5" height="616.5"/>
<g clip-path="url(#clip-b)">
<path class="cv" stroke="#fde725" d="M827.8,640.0 L828.0,637.9 L828.1,635.8 L828.2,633.7 L828.3,631.7 L828.4,629.6 L828.5,627.5 L828.6,625.4 L828.7,623.3 L828.7,621.2 L828.8,619.1 L828.9,617.0 L829.0,614.9 L829.0,612.9 L829.1,610.8 L829.2,608.7 L829.2,606.6 L829.3,604.5 L829.3,602.4 L829.4,600.3 L829.5,598.2 L829.5,596.1 L829.6,594.0 L829.6,592.0 L829.7,589.9 L829.7,587.8 L829.8,585.7 L829.8,583.6 L829.9,581.5 L829.9,579.4 L830.0,577.3 L830.1,575.2 L830.1,573.1 L830.2,571.1 L830.2,569.0 L830.3,566.9 L830.4,564.8 L830.4,562.7 L830.5,560.6 L830.5,558.5 L830.6,556.4 L830.7,554.3 L830.7,552.2 L830.8,550.2 L830.9,548.1 L830.9,546.0 L831.0,543.9 L831.1,541.8 L831.1,539.7 L831.2,537.6 L831.3,535.5 L831.3,533.4 L831.4,531.3 L831.5,529.3 L831.5,527.2 L831.6,525.1 L831.7,523.0 L831.8,520.9 L831.8,518.8 L831.9,516.7 L832.0,514.6 L832.1,512.5 L832.2,510.5 L832.2,508.4 L832.3,506.3 L832.4,504.2 L832.5,502.1 L832.6,500.0 L832.7,497.9 L832.8,495.8 L832.9,493.7 L833.0,491.7 L833.1,489.6 L833.2,487.5 L833.3,485.4 L833.4,483.3 L833.5,481.2 L833.7,479.1 L833.8,477.0 L833.9,475.0 L834.1,472.9 L834.2,470.8 L834.4,468.7 L834.6,466.6 L834.8,464.5 L835.0,462.5 L835.1,460.4 L835.3,458.3 L835.5,456.2 L835.7,454.1 L835.9,452.0 L836.1,450.0 L836.3,447.9 L836.5,445.8 L836.7,443.7 L836.9,441.6 L837.0,439.5 L837.2,437.5 L837.4,435.4 L837.5,433.3 L837.7,431.2 L837.8,429.1 L838.0,427.0 L838.1,424.9 L838.3,422.8 L838.4,420.8 L838.5,418.7 L838.7,416.6 L838.9,414.5 L839.0,412.4 L839.2,410.3 L839.4,408.3 L839.6,406.2 L839.8,404.1 L840.0,402.0 L840.2,400.0 L840.5,397.9 L840.7,395.8 L841.0,393.7 L841.3,391.7 L841.6,389.6 L842.0,387.5 L842.3,385.5 L842.7,383.4 L843.1,381.4 L843.5,379.3 L843.9,377.2 L844.4,375.2 L844.8,373.1 L845.3,371.1 L845.7,369.1 L846.2,367.0 L846.7,365.0 L847.2,363.0 L847.7,361.0 L848.3,358.9 L848.9,356.9 L849.5,354.9 L850.2,352.9 L850.8,351.0 L851.5,349.0 L852.2,347.0 L853.0,345.1 L853.7,343.1 L854.5,341.2 L855.3,339.2 L856.2,337.3 L857.1,335.4 L858.0,333.5 L859.0,331.6 L859.9,329.8 L861.0,328.1 L862.1,326.3 L863.2,324.5 L864.5,322.7 L865.7,321.0 L867.1,319.3 L868.5,317.7 L869.9,316.3 L871.4,315.0 L873.0,313.8 L874.7,312.6 L876.5,311.5 L878.4,310.4 L880.3,309.4 L882.2,308.4 L884.2,307.6 L886.2,306.9 L888.1,306.3 L890.1,305.7 L892.1,305.2 L894.1,304.7 L896.1,304.2 L898.2,303.8 L900.2,303.3 L902.3,302.9 L904.4,302.5 L906.5,302.1 L908.6,301.8 L910.7,301.5 L912.8,301.3 L914.9,301.1 L917.0,301.0 L919.1,300.9 L921.1,300.9 L923.2,300.9 L925.3,301.0 L927.3,301.2 L929.4,301.4 L931.5,301.6 L933.6,301.8 L935.7,302.1 L937.8,302.4 L939.8,302.7 L941.9,303.1 L944.0,303.4 L946.1,303.8 L948.1,304.1 L950.2,304.4 L952.3,304.8 L954.3,305.1 L956.4,305.4 L958.4,305.8 L960.5,306.1 L962.5,306.5 L964.6,306.9 L966.6,307.3 L968.7,307.7 L970.7,308.2 L972.8,308.6 L974.8,309.0 L976.9,309.5 L978.9,310.0 L980.9,310.4 L983.0,310.9 L985.0,311.4 L987.0,311.9 L989.1,312.4 L991.1,312.9 L993.2,313.3 L995.2,313.8 L997.2,314.3 L999.3,314.8 L1001.3,315.3 L1003.3,315.8 L1005.4,316.3 L1007.4,316.8 L1009.4,317.3 L1011.5,317.8 L1013.5,318.2 L1015.6,318.7 L1017.6,319.1 L1019.6,319.6 L1021.7,320.1 L1023.7,320.5 L1025.8,321.0 L1027.8,321.4 L1029.8,321.9 L1031.9,322.4 L1033.9,322.8 L1035.9,323.3 L1038.0,323.8 L1040.0,324.2 L1042.1,324.7 L1044.1,325.2 L1046.1,325.6 L1048.2,326.1 L1050.2,326.6 L1052.2,327.1 L1054.3,327.5 L1056.3,328.0 L1058.4,328.5 L1060.4,328.9 L1062.4,329.4 L1064.5,329.9 L1066.5,330.3 L1068.6,330.8 L1070.6,331.2 L1072.6,331.7 L1074.7,332.2 L1076.7,332.6 L1078.7,333.1 L1080.8,333.5 L1082.8,334.0 L1084.9,334.5 L1086.9,334.9 L1089.0,335.4 L1091.0,335.8 L1093.0,336.3 L1095.1,336.7 L1097.1,337.2 L1099.2,337.6 L1101.2,338.1 L1103.2,338.5 L1105.3,339.0 L1107.3,339.5 L1109.4,339.9 L1111.4,340.4 L1113.4,340.8 L1115.5,341.3 L1117.5,341.7 L1119.6,342.2 L1121.6,342.6 L1123.7,343.0 L1125.7,343.5 L1127.7,343.9 L1129.8,344.4 L1131.8,344.8 L1133.9,345.3 L1135.9,345.7 L1138.0,346.2 L1140.0,346.6 L1142.0,347.0 L1144.1,347.5 L1146.1,347.9 L1148.2,348.3 L1150.2,348.8 L1152.3,349.2 L1154.3,349.7 L1156.4,350.1 L1158.4,350.5 L1160.4,351.0 L1162.5,351.4 L1164.5,351.9 L1166.6,352.3 L1168.6,352.8 L1170.7,353.2 L1172.7,353.6 L1174.8,354.1 L1176.8,354.5 L1178.8,354.9 L1180.9,355.4 L1182.9,355.8 L1185.0,356.2 L1187.0,356.6 L1189.1,357.1 L1191.1,357.5 L1193.2,357.9 L1195.2,358.3 L1197.3,358.7 L1199.3,359.1 L1201.4,359.5 L1203.4,359.9 L1205.5,360.3 L1207.5,360.7 L1209.6,361.0 L1211.7,361.4 L1213.7,361.8 L1215.8,362.2 L1217.8,362.5 L1219.9,362.9 L1221.9,363.3 L1224.0,363.6 L1226.1,364.0 L1228.1,364.3 L1230.2,364.7 L1232.2,365.0 L1234.3,365.4 L1236.4,365.7 L1238.4,366.0 L1240.5,366.4 L1242.6,366.7 L1244.6,367.0 L1246.7,367.4 L1248.8,367.7 L1250.8,368.0 L1252.9,368.4 L1255.0,368.7 L1257.0,369.0 L1259.1,369.4 L1261.1,369.7 L1263.2,370.0 L1265.3,370.3 L1267.3,370.6 L1269.4,371.0 L1271.5,371.3 L1273.5,371.6 L1275.6,371.9 L1277.7,372.2 L1279.7,372.5 L1281.8,372.9 L1283.9,373.2 L1285.9,373.5 L1288.0,373.8 L1290.1,374.1 L1292.2,374.4 L1294.2,374.7 L1296.3,375.0 L1298.4,375.3 L1300.4,375.6 L1302.5,375.9 L1304.6,376.2 L1306.6,376.4 L1308.7,376.7 L1310.8,377.0 L1312.9,377.3 L1314.9,377.6 L1317.0,377.9 L1319.1,378.2 L1321.1,378.5 L1323.2,378.8 L1325.3,379.1 L1327.3,379.4 L1329.4,379.7 L1331.5,380.0 L1333.5,380.3 L1335.6,380.6 L1337.7,380.9 L1339.8,381.2 L1341.8,381.5 L1343.9,381.8 L1346.0,382.1 L1348.0,382.4 L1350.1,382.7 L1352.2,383.1 L1354.2,383.4 L1356.3,383.7 L1358.4,384.0 L1360.4,384.3 L1362.5,384.6"/>
<path class="cv" stroke="#35b779" d="M830.2,640.0 L830.3,637.9 L830.3,635.9 L830.4,633.8 L830.4,631.8 L830.5,629.7 L830.6,627.6 L830.6,625.6 L830.7,623.5 L830.8,621.5 L830.8,619.4 L830.9,617.3 L830.9,615.3 L831.0,613.2 L831.1,611.2 L831.1,609.1 L831.2,607.0 L831.3,605.0 L831.3,602.9 L831.4,600.9 L831.5,598.8 L831.5,596.7 L831.6,594.7 L831.7,592.6 L831.7,590.6 L831.8,588.5 L831.9,586.4 L831.9,584.4 L832.0,582.3 L832.1,580.3 L832.2,578.2 L832.2,576.1 L832.3,574.1 L832.4,572.0 L832.4,570.0 L832.5,567.9 L832.6,565.8 L832.7,563.8 L832.7,561.7 L832.8,559.7 L832.9,557.6 L833.0,555.5 L833.0,553.5 L833.1,551.4 L833.2,549.4 L833.2,547.3 L833.3,545.2 L833.4,543.2 L833.5,541.1 L833.5,539.1 L833.6,537.0 L833.7,534.9 L833.7,532.9 L833.8,530.8 L833.9,528.8 L833.9,526.7 L834.0,524.6 L834.1,522.6 L834.2,520.5 L834.2,518.5 L834.3,516.4 L834.4,514.3 L834.5,512.3 L834.6,510.2 L834.6,508.2 L834.7,506.1 L834.8,504.0 L834.9,502.0 L835.0,499.9 L835.1,497.9 L835.2,495.8 L835.3,493.7 L835.4,491.7 L835.5,489.6 L835.6,487.6 L835.7,485.5 L835.8,483.5 L835.9,481.4 L836.0,479.4 L836.2,477.3 L836.3,475.2 L836.4,473.2 L836.6,471.1 L836.7,469.1 L836.9,467.0 L837.1,465.0 L837.2,462.9 L837.4,460.9 L837.6,458.8 L837.8,456.8 L838.0,454.7 L838.2,452.7 L838.4,450.6 L838.6,448.5 L838.8,446.5 L839.0,444.4 L839.2,442.4 L839.4,440.3 L839.7,438.3 L839.9,436.2 L840.1,434.2 L840.3,432.1 L840.5,430.1 L840.7,428.0 L841.0,426.0 L841.2,423.9 L841.4,421.9 L841.6,419.8 L841.8,417.8 L842.0,415.7 L842.3,413.7 L842.5,411.6 L842.7,409.6 L842.9,407.5 L843.2,405.5 L843.4,403.4 L843.7,401.4 L844.0,399.4 L844.3,397.3 L844.7,395.3 L845.0,393.3 L845.4,391.2 L845.8,389.2 L846.2,387.2 L846.6,385.2 L847.1,383.2 L847.5,381.2 L848.0,379.1 L848.4,377.1 L848.9,375.1 L849.4,373.1 L849.9,371.1 L850.4,369.1 L851.0,367.2 L851.5,365.2 L852.1,363.2 L852.7,361.2 L853.3,359.2 L853.9,357.2 L854.6,355.3 L855.3,353.3 L856.0,351.4 L856.8,349.5 L857.5,347.6 L858.4,345.8 L859.3,343.9 L860.2,342.0 L861.2,340.2 L862.2,338.3 L863.2,336.5 L864.3,334.8 L865.4,333.0 L866.6,331.3 L867.8,329.7 L869.0,328.1 L870.3,326.5 L871.6,324.9 L873.1,323.3 L874.6,321.8 L876.1,320.5 L877.7,319.2 L879.4,318.1 L881.2,317.2 L883.0,316.3 L885.0,315.4 L886.9,314.6 L888.8,313.8 L890.7,313.1 L892.6,312.3 L894.6,311.5 L896.5,310.8 L898.4,310.1 L900.4,309.3 L902.3,308.6 L904.3,307.9 L906.2,307.3 L908.2,306.6 L910.2,306.0 L912.2,305.5 L914.2,304.9 L916.2,304.4 L918.2,304.0 L920.2,303.6 L922.2,303.2 L924.2,302.8 L926.2,302.4 L928.2,302.0 L930.3,301.7 L932.3,301.3 L934.3,301.0 L936.4,300.7 L938.4,300.4 L940.5,300.1 L942.6,299.9 L944.6,299.7 L946.7,299.5 L948.7,299.4 L950.8,299.3 L952.8,299.3 L954.9,299.3 L957.0,299.3 L959.0,299.4 L961.1,299.4 L963.1,299.5 L965.2,299.5 L967.3,299.6 L969.3,299.7 L971.4,299.8 L973.5,299.9 L975.5,300.0 L977.6,300.1 L979.6,300.2 L981.7,300.3 L983.7,300.5 L985.8,300.6 L987.8,300.7 L989.9,300.9 L991.9,301.1 L994.0,301.4 L996.0,301.6 L998.1,301.9 L1000.1,302.2 L1002.2,302.5 L1004.2,302.8 L1006.2,303.2 L1008.3,303.5 L1010.3,303.8 L1012.4,304.1 L1014.4,304.5 L1016.4,304.8 L1018.5,305.1 L1020.5,305.4 L1022.5,305.8 L1024.6,306.1 L1026.6,306.5 L1028.6,306.9 L1030.6,307.2 L1032.7,307.6 L1034.7,308.0 L1036.7,308.4 L1038.7,308.8 L1040.7,309.2 L1042.8,309.6 L1044.8,310.0 L1046.8,310.4 L1048.8,310.8 L1050.9,311.3 L1052.9,311.7 L1054.9,312.1 L1056.9,312.5 L1058.9,312.9 L1061.0,313.3 L1063.0,313.7 L1065.0,314.2 L1067.0,314.6 L1069.0,315.0 L1071.1,315.3 L1073.1,315.7 L1075.1,316.1 L1077.1,316.5 L1079.2,316.8 L1081.2,317.2 L1083.2,317.6 L1085.3,317.9 L1087.3,318.3 L1089.3,318.6 L1091.4,318.9 L1093.4,319.3 L1095.4,319.6 L1097.5,319.9 L1099.5,320.3 L1101.5,320.6 L1103.6,320.9 L1105.6,321.2 L1107.6,321.6 L1109.7,321.9 L1111.7,322.2 L1113.7,322.5 L1115.8,322.8 L1117.8,323.2 L1119.9,323.5 L1121.9,323.8 L1123.9,324.1 L1126.0,324.4 L1128.0,324.7 L1130.0,325.1 L1132.1,325.4 L1134.1,325.7 L1136.1,326.0 L1138.2,326.3 L1140.2,326.7 L1142.2,327.0 L1144.3,327.3 L1146.3,327.7 L1148.4,328.0 L1150.4,328.3 L1152.4,328.7 L1154.5,329.0 L1156.5,329.4 L1158.5,329.7 L1160.5,330.0 L1162.6,330.4 L1164.6,330.7 L1166.6,331.1 L1168.7,331.4 L1170.7,331.8 L1172.7,332.1 L1174.8,332.5 L1176.8,332.8 L1178.8,333.2 L1180.9,333.5 L1182.9,333.8 L1184.9,334.2 L1187.0,334.5 L1189.0,334.9 L1191.0,335.2 L1193.1,335.5 L1195.1,335.9 L1197.1,336.2 L1199.2,336.5 L1201.2,336.8 L1203.2,337.2 L1205.3,337.5 L1207.3,337.8 L1209.4,338.1 L1211.4,338.4 L1213.4,338.7 L1215.5,339.0 L1217.5,339.3 L1219.5,339.6 L1221.6,339.9 L1223.6,340.1 L1225.7,340.4 L1227.7,340.7 L1229.8,341.0 L1231.8,341.3 L1233.8,341.5 L1235.9,341.8 L1237.9,342.1 L1240.0,342.4 L1242.0,342.6 L1244.1,342.9 L1246.1,343.2 L1248.1,343.4 L1250.2,343.7 L1252.2,344.0 L1254.3,344.3 L1256.3,344.5 L1258.4,344.8 L1260.4,345.1 L1262.4,345.4 L1264.5,345.6 L1266.5,345.9 L1268.6,346.2 L1270.6,346.5 L1272.7,346.8 L1274.7,347.1 L1276.7,347.3 L1278.8,347.6 L1280.8,347.9 L1282.9,348.2 L1284.9,348.5 L1286.9,348.8 L1289.0,349.1 L1291.0,349.4 L1293.0,349.7 L1295.1,350.0 L1297.1,350.3 L1299.2,350.6 L1301.2,350.9 L1303.2,351.2 L1305.3,351.6 L1307.3,351.9 L1309.4,352.2 L1311.4,352.5 L1313.4,352.8 L1315.5,353.0 L1317.5,353.3 L1319.6,353.6 L1321.6,353.9 L1323.6,354.2 L1325.7,354.5 L1327.7,354.8 L1329.8,355.1 L1331.8,355.3 L1333.8,355.6 L1335.9,355.9 L1337.9,356.1 L1340.0,356.4 L1342.0,356.6 L1344.1,356.9 L1346.1,357.1 L1348.2,357.4 L1350.2,357.6 L1352.3,357.8 L1354.3,358.1 L1356.4,358.3 L1358.4,358.5 L1360.5,358.8 L1362.5,359.0"/>
<path class="cv" stroke="#31688e" d="M830.8,640.0 L830.9,638.0 L830.9,635.9 L831.0,633.9 L831.0,631.8 L831.1,629.8 L831.1,627.7 L831.2,625.7 L831.3,623.6 L831.3,621.6 L831.4,619.5 L831.5,617.5 L831.5,615.4 L831.6,613.4 L831.6,611.3 L831.7,609.3 L831.8,607.3 L831.8,605.2 L831.9,603.2 L832.0,601.1 L832.0,599.1 L832.1,597.0 L832.2,595.0 L832.2,592.9 L832.3,590.9 L832.4,588.8 L832.4,586.8 L832.5,584.7 L832.6,582.7 L832.7,580.7 L832.7,578.6 L832.8,576.6 L832.9,574.5 L832.9,572.5 L833.0,570.4 L833.1,568.4 L833.2,566.3 L833.2,564.3 L833.3,562.2 L833.4,560.2 L833.5,558.1 L833.5,556.1 L833.6,554.1 L833.7,552.0 L833.8,550.0 L833.8,547.9 L833.9,545.9 L834.0,543.8 L834.1,541.8 L834.1,539.7 L834.2,537.7 L834.3,535.6 L834.3,533.6 L834.4,531.5 L834.5,529.5 L834.6,527.4 L834.6,525.4 L834.7,523.3 L834.8,521.3 L834.9,519.3 L835.0,517.2 L835.1,515.2 L835.1,513.1 L835.2,511.1 L835.3,509.0 L835.4,507.0 L835.5,504.9 L835.6,502.9 L835.7,500.8 L835.8,498.8 L835.9,496.7 L836.0,494.7 L836.1,492.7 L836.2,490.6 L836.3,488.6 L836.4,486.5 L836.5,484.5 L836.7,482.5 L836.8,480.4 L836.9,478.4 L837.0,476.3 L837.2,474.3 L837.3,472.2 L837.5,470.2 L837.6,468.2 L837.8,466.1 L837.9,464.1 L838.1,462.0 L838.3,460.0 L838.4,457.9 L838.6,455.9 L838.8,453.9 L839.0,451.8 L839.2,449.8 L839.4,447.7 L839.6,445.7 L839.8,443.7 L840.0,441.6 L840.2,439.6 L840.5,437.5 L840.7,435.5 L840.9,433.5 L841.2,431.4 L841.4,429.4 L841.7,427.4 L841.9,425.3 L842.2,423.3 L842.4,421.3 L842.7,419.2 L843.0,417.2 L843.3,415.2 L843.5,413.1 L843.8,411.1 L844.1,409.1 L844.4,407.1 L844.7,405.1 L845.0,403.0 L845.3,401.0 L845.7,399.0 L846.0,397.0 L846.4,395.0 L846.9,393.0 L847.3,391.0 L847.8,389.0 L848.3,387.0 L848.7,385.0 L849.2,383.0 L849.7,381.0 L850.2,379.0 L850.7,377.0 L851.3,375.1 L851.8,373.1 L852.4,371.1 L853.0,369.2 L853.6,367.2 L854.2,365.3 L854.8,363.3 L855.5,361.4 L856.2,359.4 L856.9,357.5 L857.6,355.5 L858.4,353.6 L859.2,351.8 L860.0,349.9 L860.9,348.1 L861.8,346.3 L862.7,344.4 L863.7,342.6 L864.8,340.8 L865.9,339.0 L867.0,337.2 L868.2,335.5 L869.4,333.8 L870.7,332.2 L872.0,330.7 L873.3,329.3 L874.7,327.9 L876.2,326.6 L877.8,325.3 L879.5,324.1 L881.3,323.0 L883.1,321.9 L884.9,320.8 L886.7,319.8 L888.5,318.9 L890.3,317.9 L892.1,317.0 L893.9,316.1 L895.8,315.2 L897.6,314.3 L899.5,313.4 L901.4,312.5 L903.3,311.7 L905.2,310.9 L907.1,310.1 L909.1,309.4 L911.0,308.7 L913.0,308.0 L914.9,307.4 L916.9,306.9 L918.8,306.4 L920.8,305.9 L922.8,305.5 L924.7,305.1 L926.7,304.7 L928.7,304.2 L930.8,303.8 L932.8,303.4 L934.8,303.1 L936.9,302.7 L938.9,302.4 L940.9,302.1 L943.0,301.9 L945.0,301.7 L947.1,301.5 L949.1,301.4 L951.2,301.3 L953.2,301.3 L955.3,301.3 L957.3,301.3 L959.3,301.3 L961.4,301.3 L963.4,301.3 L965.5,301.3 L967.5,301.3 L969.6,301.4 L971.6,301.4 L973.7,301.4 L975.7,301.4 L977.8,301.4 L979.8,301.4 L981.9,301.5 L983.9,301.5 L986.0,301.5 L988.0,301.6 L990.1,301.7 L992.1,301.8 L994.1,302.0 L996.2,302.2 L998.2,302.4 L1000.3,302.7 L1002.3,302.9 L1004.3,303.2 L1006.4,303.4 L1008.4,303.7 L1010.4,304.0 L1012.5,304.3 L1014.5,304.5 L1016.5,304.8 L1018.5,305.1 L1020.6,305.3 L1022.6,305.6 L1024.6,306.0 L1026.6,306.3 L1028.7,306.6 L1030.7,306.9 L1032.7,307.3 L1034.7,307.7 L1036.7,308.0 L1038.7,308.4 L1040.7,308.8 L1042.8,309.2 L1044.8,309.6 L1046.8,309.9 L1048.8,310.3 L1050.8,310.7 L1052.8,311.1 L1054.8,311.5 L1056.8,311.9 L1058.8,312.3 L1060.9,312.7 L1062.9,313.1 L1064.9,313.5 L1066.9,313.9 L1068.9,314.3 L1070.9,314.6 L1072.9,315.0 L1075.0,315.4 L1077.0,315.7 L1079.0,316.0 L1081.0,316.4 L1083.0,316.7 L1085.1,317.0 L1087.1,317.3 L1089.1,317.6 L1091.1,317.9 L1093.2,318.2 L1095.2,318.5 L1097.2,318.8 L1099.2,319.1 L1101.3,319.3 L1103.3,319.6 L1105.3,319.9 L1107.3,320.2 L1109.4,320.5 L1111.4,320.7 L1113.4,321.0 L1115.5,321.3 L1117.5,321.6 L1119.5,321.8 L1121.6,322.1 L1123.6,322.4 L1125.6,322.7 L1127.6,322.9 L1129.7,323.2 L1131.7,323.5 L1133.7,323.8 L1135.8,324.1 L1137.8,324.4 L1139.8,324.7 L1141.8,325.0 L1143.9,325.3 L1145.9,325.6 L1147.9,325.9 L1149.9,326.2 L1151.9,326.5 L1154.0,326.8 L1156.0,327.2 L1158.0,327.5 L1160.0,327.8 L1162.1,328.1 L1164.1,328.4 L1166.1,328.8 L1168.1,329.1 L1170.1,329.4 L1172.2,329.8 L1174.2,330.1 L1176.2,330.4 L1178.2,330.8 L1180.2,331.1 L1182.3,331.4 L1184.3,331.8 L1186.3,332.1 L1188.3,332.4 L1190.3,332.8 L1192.4,333.1 L1194.4,333.4 L1196.4,333.8 L1198.4,334.1 L1200.4,334.4 L1202.5,334.8 L1204.5,335.1 L1206.5,335.4 L1208.5,335.8 L1210.6,336.1 L1212.6,336.4 L1214.6,336.7 L1216.6,337.1 L1218.6,337.4 L1220.7,337.7 L1222.7,338.0 L1224.7,338.4 L1226.7,338.7 L1228.7,339.0 L1230.8,339.4 L1232.8,339.7 L1234.8,340.0 L1236.8,340.3 L1238.8,340.7 L1240.9,341.0 L1242.9,341.3 L1244.9,341.7 L1246.9,342.0 L1249.0,342.3 L1251.0,342.6 L1253.0,342.9 L1255.0,343.3 L1257.0,343.6 L1259.1,343.9 L1261.1,344.2 L1263.1,344.5 L1265.1,344.8 L1267.2,345.1 L1269.2,345.4 L1271.2,345.7 L1273.2,346.0 L1275.3,346.3 L1277.3,346.6 L1279.3,346.9 L1281.3,347.2 L1283.4,347.5 L1285.4,347.8 L1287.4,348.1 L1289.4,348.4 L1291.5,348.7 L1293.5,349.0 L1295.5,349.3 L1297.6,349.5 L1299.6,349.8 L1301.6,350.1 L1303.6,350.4 L1305.7,350.7 L1307.7,350.9 L1309.7,351.2 L1311.8,351.5 L1313.8,351.8 L1315.8,352.1 L1317.8,352.3 L1319.9,352.6 L1321.9,352.9 L1323.9,353.2 L1326.0,353.4 L1328.0,353.7 L1330.0,354.0 L1332.0,354.2 L1334.1,354.5 L1336.1,354.8 L1338.1,355.1 L1340.2,355.3 L1342.2,355.6 L1344.2,355.9 L1346.3,356.1 L1348.3,356.4 L1350.3,356.6 L1352.3,356.9 L1354.4,357.2 L1356.4,357.4 L1358.4,357.7 L1360.5,357.9 L1362.5,358.2"/>
<path class="cv" stroke="#440154" d="M831.5,640.0 L831.6,638.0 L831.7,636.0 L831.8,633.9 L831.9,631.9 L832.0,629.9 L832.0,627.9 L832.1,625.8 L832.2,623.8 L832.2,621.8 L832.3,619.8 L832.3,617.7 L832.4,615.7 L832.4,613.7 L832.5,611.7 L832.5,609.6 L832.6,607.6 L832.7,605.6 L832.7,603.6 L832.8,601.5 L832.8,599.5 L832.9,597.5 L832.9,595.5 L833.0,593.4 L833.1,591.4 L833.1,589.4 L833.2,587.4 L833.3,585.3 L833.3,583.3 L833.4,581.3 L833.5,579.3 L833.5,577.3 L833.6,575.2 L833.7,573.2 L833.8,571.2 L833.8,569.2 L833.9,567.1 L834.0,565.1 L834.1,563.1 L834.2,561.1 L834.2,559.0 L834.3,557.0 L834.4,555.0 L834.5,553.0 L834.6,550.9 L834.7,548.9 L834.8,546.9 L834.9,544.9 L834.9,542.9 L835.0,540.8 L835.1,538.8 L835.2,536.8 L835.3,534.8 L835.4,532.7 L835.5,530.7 L835.6,528.7 L835.7,526.7 L835.8,524.6 L835.9,522.6 L836.0,520.6 L836.1,518.6 L836.2,516.6 L836.2,514.5 L836.3,512.5 L836.4,510.5 L836.5,508.5 L836.6,506.4 L836.6,504.4 L836.7,502.4 L836.8,500.4 L836.9,498.3 L837.0,496.3 L837.1,494.3 L837.2,492.3 L837.2,490.2 L837.3,488.2 L837.4,486.2 L837.6,484.2 L837.7,482.2 L837.8,480.1 L837.9,478.1 L838.1,476.1 L838.2,474.1 L838.4,472.1 L838.5,470.0 L838.7,468.0 L838.9,466.0 L839.1,464.0 L839.3,462.0 L839.5,460.0 L839.7,457.9 L839.9,455.9 L840.1,453.9 L840.4,451.9 L840.6,449.9 L840.8,447.9 L841.0,445.9 L841.3,443.8 L841.5,441.8 L841.7,439.8 L842.0,437.8 L842.2,435.8 L842.4,433.8 L842.7,431.8 L842.9,429.8 L843.2,427.8 L843.5,425.8 L843.7,423.7 L844.0,421.7 L844.3,419.7 L844.7,417.7 L845.0,415.7 L845.4,413.8 L845.7,411.8 L846.1,409.8 L846.5,407.8 L846.9,405.8 L847.3,403.8 L847.7,401.8 L848.0,399.8 L848.4,397.8 L848.7,395.8 L849.0,393.8 L849.4,391.8 L849.8,389.8 L850.2,387.9 L850.6,385.9 L851.1,383.9 L851.7,382.0 L852.3,380.1 L852.9,378.1 L853.6,376.2 L854.2,374.3 L854.9,372.4 L855.7,370.5 L856.4,368.6 L857.1,366.7 L857.9,364.8 L858.7,363.0 L859.5,361.1 L860.4,359.3 L861.3,357.4 L862.2,355.6 L863.2,353.8 L864.2,352.0 L865.2,350.3 L866.2,348.6 L867.3,346.9 L868.5,345.3 L869.8,343.7 L871.1,342.1 L872.4,340.6 L873.8,339.1 L875.2,337.6 L876.6,336.1 L878.0,334.7 L879.4,333.3 L880.9,331.8 L882.4,330.4 L883.9,329.0 L885.5,327.7 L887.1,326.5 L888.8,325.5 L890.5,324.5 L892.2,323.6 L894.0,322.7 L895.8,321.9 L897.6,321.0 L899.5,320.2 L901.4,319.4 L903.3,318.7 L905.3,318.0 L907.2,317.3 L909.2,316.6 L911.2,316.0 L913.1,315.4 L915.1,314.9 L917.1,314.3 L919.0,313.8 L921.0,313.4 L922.9,312.9 L924.9,312.5 L926.9,312.0 L928.9,311.6 L930.8,311.2 L932.8,310.8 L934.8,310.4 L936.8,310.0 L938.9,309.7 L940.9,309.4 L942.9,309.1 L944.9,308.8 L946.9,308.6 L948.9,308.4 L950.9,308.2 L953.0,308.1 L955.0,308.0 L957.0,307.8 L959.0,307.7 L961.0,307.6 L963.1,307.5 L965.1,307.4 L967.1,307.4 L969.2,307.3 L971.2,307.3 L973.2,307.2 L975.2,307.2 L977.2,307.2 L979.3,307.3 L981.3,307.3 L983.3,307.5 L985.3,307.6 L987.3,307.8 L989.3,308.0 L991.3,308.3 L993.3,308.6 L995.4,308.8 L997.4,309.1 L999.4,309.4 L1001.4,309.8 L1003.4,310.1 L1005.4,310.4 L1007.4,310.7 L1009.4,311.0 L1011.4,311.3 L1013.4,311.6 L1015.5,311.9 L1017.5,312.1 L1019.5,312.4 L1021.5,312.6 L1023.5,312.9 L1025.5,313.1 L1027.5,313.4 L1029.5,313.6 L1031.5,313.9 L1033.5,314.2 L1035.5,314.4 L1037.5,314.7 L1039.6,315.0 L1041.6,315.2 L1043.6,315.5 L1045.6,315.7 L1047.6,316.0 L1049.6,316.3 L1051.6,316.5 L1053.6,316.8 L1055.6,317.1 L1057.6,317.4 L1059.6,317.6 L1061.6,317.9 L1063.6,318.2 L1065.7,318.4 L1067.7,318.7 L1069.7,319.0 L1071.7,319.3 L1073.7,319.5 L1075.7,319.8 L1077.7,320.1 L1079.7,320.4 L1081.7,320.7 L1083.7,320.9 L1085.7,321.2 L1087.7,321.5 L1089.7,321.8 L1091.7,322.1 L1093.7,322.3 L1095.7,322.6 L1097.7,322.9 L1099.7,323.2 L1101.8,323.5 L1103.8,323.8 L1105.8,324.1 L1107.8,324.4 L1109.8,324.7 L1111.8,325.0 L1113.8,325.2 L1115.8,325.5 L1117.8,325.8 L1119.8,326.1 L1121.8,326.4 L1123.8,326.7 L1125.8,327.0 L1127.8,327.3 L1129.8,327.6 L1131.8,327.9 L1133.8,328.2 L1135.8,328.5 L1137.8,328.8 L1139.8,329.1 L1141.8,329.4 L1143.8,329.7 L1145.8,330.0 L1147.8,330.3 L1149.8,330.6 L1151.8,330.9 L1153.8,331.2 L1155.9,331.5 L1157.9,331.8 L1159.9,332.1 L1161.9,332.4 L1163.9,332.7 L1165.9,333.0 L1167.9,333.3 L1169.9,333.6 L1171.9,333.9 L1173.9,334.2 L1175.9,334.5 L1177.9,334.8 L1179.9,335.1 L1181.9,335.4 L1183.9,335.7 L1185.9,336.0 L1187.9,336.3 L1189.9,336.6 L1191.9,336.9 L1193.9,337.2 L1195.9,337.5 L1197.9,337.8 L1199.9,338.1 L1201.9,338.4 L1203.9,338.7 L1205.9,339.0 L1207.9,339.3 L1209.9,339.6 L1211.9,339.8 L1213.9,340.1 L1215.9,340.4 L1217.9,340.7 L1220.0,341.0 L1222.0,341.3 L1224.0,341.6 L1226.0,341.8 L1228.0,342.1 L1230.0,342.4 L1232.0,342.7 L1234.0,343.0 L1236.0,343.2 L1238.0,343.5 L1240.0,343.8 L1242.0,344.1 L1244.0,344.4 L1246.0,344.6 L1248.0,344.9 L1250.0,345.2 L1252.1,345.4 L1254.1,345.7 L1256.1,346.0 L1258.1,346.3 L1260.1,346.5 L1262.1,346.8 L1264.1,347.1 L1266.1,347.3 L1268.1,347.6 L1270.1,347.8 L1272.1,348.1 L1274.1,348.4 L1276.1,348.6 L1278.2,348.9 L1280.2,349.1 L1282.2,349.4 L1284.2,349.6 L1286.2,349.8 L1288.2,350.1 L1290.2,350.3 L1292.2,350.6 L1294.2,350.8 L1296.3,351.0 L1298.3,351.3 L1300.3,351.5 L1302.3,351.7 L1304.3,352.0 L1306.3,352.2 L1308.3,352.4 L1310.3,352.7 L1312.3,352.9 L1314.4,353.1 L1316.4,353.4 L1318.4,353.6 L1320.4,353.9 L1322.4,354.1 L1324.4,354.4 L1326.4,354.6 L1328.4,354.9 L1330.4,355.1 L1332.4,355.4 L1334.5,355.7 L1336.5,355.9 L1338.5,356.2 L1340.5,356.5 L1342.5,356.8 L1344.5,357.1 L1346.5,357.3 L1348.5,357.6 L1350.5,357.9 L1352.5,358.2 L1354.5,358.6 L1356.5,358.9 L1358.5,359.2 L1360.5,359.5 L1362.5,359.8"/>
<path class="eb" stroke="#fde725" d="M888.5,292.5V319.9M881.3,292.5h14.5M881.3,319.9h14.5M952.6,289.6V320.5M945.4,289.6h14.5M945.4,320.5h14.5M1016.7,305.2V335.5M1009.4,305.2h14.5M1009.4,335.5h14.5M1080.8,318.1V350.4M1073.5,318.1h14.5M1073.5,350.4h14.5M1144.9,331.4V364.6M1137.6,331.4h14.5M1137.6,364.6h14.5M1208.9,344.7V375.9M1201.7,344.7h14.5M1201.7,375.9h14.5M1273.0,355.8V386.4M1265.8,355.8h14.5M1265.8,386.4h14.5M1337.1,365.7V396.3M1329.8,365.7h14.5M1329.8,396.3h14.5"/>
<path class="eb" stroke="#35b779" d="M888.5,312.0V317.9M881.3,312.0h14.5M881.3,317.9h14.5M952.6,290.5V307.2M945.4,290.5h14.5M945.4,307.2h14.5M1016.7,294.4V317.9M1009.4,294.4h14.5M1009.4,317.9h14.5M1080.8,304.5V329.5M1073.5,304.5h14.5M1073.5,329.5h14.5M1144.9,314.3V340.5M1137.6,314.3h14.5M1137.6,340.5h14.5M1208.9,323.9V352.0M1201.7,323.9h14.5M1201.7,352.0h14.5M1273.0,332.1V361.5M1265.8,332.1h14.5M1265.8,361.5h14.5M1337.1,340.5V371.5M1329.8,340.5h14.5M1329.8,371.5h14.5"/>
<path class="eb" stroke="#31688e" d="M888.5,310.7V326.3M881.3,310.7h14.5M881.3,326.3h14.5M952.6,289.5V312.6M945.4,289.5h14.5M945.4,312.6h14.5M1016.7,289.6V320.5M1009.4,289.6h14.5M1009.4,320.5h14.5M1080.8,297.6V330.3M1073.5,297.6h14.5M1073.5,330.3h14.5M1144.9,307.2V341.6M1137.6,307.2h14.5M1137.6,341.6h14.5M1208.9,316.1V353.8M1201.7,316.1h14.5M1201.7,353.8h14.5M1273.0,324.7V366.4M1265.8,324.7h14.5M1265.8,366.4h14.5M1337.1,332.7V376.8M1329.8,332.7h14.5M1329.8,376.8h14.5"/>
<path class="eb" stroke="#440154" d="M888.5,313.4V339.8M881.3,313.4h14.5M881.3,339.8h14.5M952.6,288.6V327.3M945.4,288.6h14.5M945.4,327.3h14.5M1016.7,287.6V334.9M1009.4,287.6h14.5M1009.4,334.9h14.5M1080.8,294.4V346.0M1073.5,294.4h14.5M1073.5,346.0h14.5M1144.9,303.7V357.5M1137.6,303.7h14.5M1137.6,357.5h14.5M1208.9,312.1V367.5M1201.7,312.1h14.5M1201.7,367.5h14.5M1273.0,321.0V377.9M1265.8,321.0h14.5M1265.8,377.9h14.5M1337.1,328.7V385.9M1329.8,328.7h14.5M1329.8,385.9h14.5"/>
</g>
<text transform="translate(824.5 685.8) scale(1 1.035)" text-anchor="middle">0</text>
<text transform="translate(984.7 685.8) scale(1 1.035)" text-anchor="middle">50</text>
<text transform="translate(1144.9 685.8) scale(1 1.035)" text-anchor="middle">100</text>
<text transform="translate(1305.1 685.8) scale(1 1.035)" text-anchor="middle">150</text>
<text transform="translate(791.3 648.4) scale(1 1.035)" text-anchor="end">2.9</text>
<text transform="translate(791.3 494.3) scale(1 1.035)" text-anchor="end">3.0</text>
<text transform="translate(791.3 340.1) scale(1 1.035)" text-anchor="end">3.1</text>
<text transform="translate(791.3 186.0) scale(1 1.035)" text-anchor="end">3.2</text>
<text transform="translate(791.3 31.9) scale(1 1.035)" text-anchor="end">3.3</text>
<text transform="translate(830.0 59.6) scale(1 1.02)">b)</text>
<text transform="translate(1097.6 766.5) scale(1 1.02)" text-anchor="middle">Time <tspan font-style="italic">t</tspan> in h <tspan class="ar" dy="6.3">→</tspan></text>
<rect class="lg" x="1058.5" y="40.4" width="308.2" height="237.1"/>
<path class="ll" stroke="#fde725" d="M1066.7,72.0H1167.2"/>
<text transform="translate(1182.2 88.0) scale(1 1.02)">0.10 MPa</text>
<path class="ll" stroke="#35b779" d="M1066.7,129.7H1167.2"/>
<text transform="translate(1182.2 145.7) scale(1 1.02)">0.20 MPa</text>
<path class="ll" stroke="#31688e" d="M1066.7,187.5H1167.2"/>
<text transform="translate(1182.2 203.5) scale(1 1.02)">0.25 MPa</text>
<path class="ll" stroke="#440154" d="M1066.7,245.3H1167.2"/>
<text transform="translate(1182.2 261.3) scale(1 1.02)">0.30 MPa</text>
</g>
<g id="panel-c">
<path class="gr" d="M1504.7,17.5V634.0M1665.0,17.5V634.0M1825.2,17.5V634.0M1985.5,17.5V634.0M1488.8,479.9H2065.5M1488.8,325.7H2065.5M1488.8,171.6H2065.5"/>
<path class="tk" d="M1504.7,634.0v-14.6M1504.7,17.5v14.6M1665.0,634.0v-14.6M1665.0,17.5v14.6M1825.2,634.0v-14.6M1825.2,17.5v14.6M1985.5,634.0v-14.6M1985.5,17.5v14.6M1584.8,634.0v-7.3M1584.8,17.5v7.3M1745.1,634.0v-7.3M1745.1,17.5v7.3M1905.4,634.0v-7.3M1905.4,17.5v7.3M1488.8,479.9h14.6M2065.5,479.9h-14.6M1488.8,325.7h14.6M2065.5,325.7h-14.6M1488.8,171.6h14.6M2065.5,171.6h-14.6M1488.8,556.9h7.3M2065.5,556.9h-7.3M1488.8,402.8h7.3M2065.5,402.8h-7.3M1488.8,248.7h7.3M2065.5,248.7h-7.3M1488.8,94.6h7.3M2065.5,94.6h-7.3"/>
<rect class="sp" x="1488.8" y="17.5" width="576.7" height="616.5"/>
<g clip-path="url(#clip-c)">
<path class="cv" stroke="#fde725" d="M1507.0,640.0 L1507.0,637.5 L1507.1,635.0 L1507.1,632.4 L1507.1,629.9 L1507.2,627.4 L1507.2,624.9 L1507.2,622.4 L1507.3,619.8 L1507.3,617.3 L1507.3,614.8 L1507.4,612.3 L1507.4,609.7 L1507.4,607.2 L1507.5,604.7 L1507.5,602.2 L1507.5,599.7 L1507.6,597.1 L1507.6,594.6 L1507.7,592.1 L1507.7,589.6 L1507.7,587.1 L1507.8,584.5 L1507.8,582.0 L1507.8,579.5 L1507.9,577.0 L1507.9,574.5 L1508.0,571.9 L1508.0,569.4 L1508.1,566.9 L1508.1,564.4 L1508.1,561.9 L1508.2,559.3 L1508.2,556.8 L1508.3,554.3 L1508.3,551.8 L1508.4,549.3 L1508.4,546.7 L1508.4,544.2 L1508.5,541.7 L1508.5,539.2 L1508.6,536.6 L1508.6,534.1 L1508.7,531.6 L1508.7,529.1 L1508.8,526.6 L1508.8,524.0 L1508.9,521.5 L1508.9,519.0 L1509.0,516.5 L1509.0,514.0 L1509.1,511.4 L1509.1,508.9 L1509.2,506.4 L1509.2,503.9 L1509.3,501.4 L1509.3,498.8 L1509.4,496.3 L1509.4,493.8 L1509.5,491.3 L1509.5,488.8 L1509.6,486.2 L1509.6,483.7 L1509.7,481.2 L1509.7,478.7 L1509.8,476.2 L1509.8,473.6 L1509.9,471.1 L1509.9,468.6 L1510.0,466.1 L1510.0,463.5 L1510.1,461.0 L1510.1,458.5 L1510.2,456.0 L1510.2,453.5 L1510.3,450.9 L1510.3,448.4 L1510.4,445.9 L1510.4,443.4 L1510.5,440.9 L1510.5,438.3 L1510.6,435.8 L1510.6,433.3 L1510.7,430.8 L1510.8,428.3 L1510.8,425.7 L1510.9,423.2 L1510.9,420.7 L1511.0,418.2 L1511.1,415.7 L1511.1,413.1 L1511.2,410.6 L1511.3,408.1 L1511.3,405.6 L1511.4,403.1 L1511.5,400.5 L1511.5,398.0 L1511.6,395.5 L1511.7,393.0 L1511.7,390.5 L1511.8,387.9 L1511.9,385.4 L1512.0,382.9 L1512.1,380.4 L1512.1,377.9 L1512.2,375.3 L1512.3,372.8 L1512.4,370.3 L1512.5,367.8 L1512.6,365.3 L1512.7,362.7 L1512.7,360.2 L1512.8,357.7 L1512.9,355.2 L1513.0,352.7 L1513.1,350.1 L1513.2,347.6 L1513.3,345.1 L1513.4,342.6 L1513.6,340.1 L1513.7,337.5 L1513.8,335.0 L1513.9,332.5 L1514.0,330.0 L1514.1,327.5 L1514.2,325.0 L1514.4,322.4 L1514.5,319.9 L1514.7,317.4 L1514.8,314.9 L1515.0,312.4 L1515.1,309.9 L1515.3,307.3 L1515.4,304.8 L1515.6,302.3 L1515.8,299.8 L1516.0,297.3 L1516.1,294.8 L1516.3,292.2 L1516.5,289.7 L1516.7,287.2 L1516.9,284.7 L1517.1,282.2 L1517.3,279.7 L1517.5,277.2 L1517.7,274.7 L1518.0,272.1 L1518.2,269.6 L1518.4,267.1 L1518.7,264.6 L1518.9,262.1 L1519.2,259.6 L1519.4,257.1 L1519.7,254.6 L1520.0,252.1 L1520.2,249.6 L1520.5,247.1 L1520.8,244.6 L1521.1,242.1 L1521.5,239.6 L1521.8,237.1 L1522.1,234.6 L1522.5,232.1 L1522.8,229.6 L1523.2,227.1 L1523.5,224.6 L1523.9,222.1 L1524.3,219.6 L1524.7,217.1 L1525.1,214.6 L1525.5,212.1 L1526.0,209.6 L1526.4,207.2 L1526.8,204.7 L1527.3,202.2 L1527.8,199.7 L1528.2,197.2 L1528.7,194.7 L1529.2,192.2 L1529.8,189.8 L1530.3,187.3 L1530.9,184.9 L1531.5,182.4 L1532.1,180.0 L1532.8,177.6 L1533.5,175.1 L1534.2,172.8 L1535.0,170.4 L1535.9,168.0 L1536.8,165.6 L1537.8,163.3 L1538.8,161.0 L1539.8,158.7 L1540.9,156.4 L1542.1,154.2 L1543.2,151.9 L1544.5,149.7 L1545.8,147.5 L1547.1,145.3 L1548.6,143.2 L1550.0,141.2 L1551.6,139.3 L1553.2,137.4 L1554.9,135.5 L1556.7,133.6 L1558.6,131.8 L1560.6,130.1 L1562.6,128.5 L1564.7,127.0 L1566.8,125.8 L1568.9,124.7 L1571.1,123.8 L1573.4,122.9 L1575.7,122.1 L1578.1,121.3 L1580.6,120.5 L1583.1,119.9 L1585.6,119.2 L1588.1,118.7 L1590.6,118.1 L1593.2,117.7 L1595.7,117.2 L1598.2,116.9 L1600.6,116.5 L1603.1,116.2 L1605.6,115.9 L1608.1,115.6 L1610.6,115.3 L1613.1,115.1 L1615.7,114.8 L1618.2,114.6 L1620.7,114.4 L1623.2,114.2 L1625.8,114.0 L1628.3,113.9 L1630.8,113.8 L1633.3,113.7 L1635.8,113.6 L1638.3,113.5 L1640.9,113.4 L1643.4,113.3 L1645.9,113.2 L1648.4,113.2 L1650.9,113.1 L1653.5,113.0 L1656.0,113.0 L1658.5,113.0 L1661.0,112.9 L1663.6,112.9 L1666.1,112.9 L1668.6,112.9 L1671.1,112.9 L1673.6,113.0 L1676.2,113.0 L1678.7,113.1 L1681.2,113.2 L1683.7,113.2 L1686.2,113.3 L1688.8,113.4 L1691.3,113.5 L1693.8,113.6 L1696.3,113.7 L1698.8,113.8 L1701.4,113.9 L1703.9,114.0 L1706.4,114.1 L1708.9,114.3 L1711.4,114.4 L1713.9,114.6 L1716.5,114.8 L1719.0,115.0 L1721.5,115.2 L1724.0,115.4 L1726.5,115.6 L1729.0,115.8 L1731.5,116.0 L1734.0,116.2 L1736.6,116.4 L1739.1,116.7 L1741.6,116.9 L1744.1,117.1 L1746.6,117.4 L1749.1,117.6 L1751.6,117.8 L1754.1,118.1 L1756.7,118.3 L1759.2,118.5 L1761.7,118.8 L1764.2,119.0 L1766.7,119.2 L1769.2,119.5 L1771.7,119.7 L1774.2,120.0 L1776.7,120.3 L1779.2,120.5 L1781.7,120.8 L1784.2,121.1 L1786.7,121.4 L1789.2,121.7 L1791.8,122.0 L1794.3,122.2 L1796.8,122.5 L1799.3,122.8 L1801.8,123.1 L1804.3,123.4 L1806.8,123.7 L1809.3,124.0 L1811.8,124.3 L1814.3,124.5 L1816.8,124.8 L1819.3,125.1 L1821.8,125.4 L1824.3,125.6 L1826.8,125.9 L1829.3,126.1 L1831.8,126.4 L1834.4,126.7 L1836.9,126.9 L1839.4,127.2 L1841.9,127.4 L1844.4,127.7 L1846.9,127.9 L1849.4,128.2 L1851.9,128.5 L1854.4,128.7 L1856.9,129.0 L1859.4,129.2 L1861.9,129.5 L1864.5,129.7 L1867.0,129.9 L1869.5,130.2 L1872.0,130.4 L1874.5,130.7 L1877.0,130.9 L1879.5,131.1 L1882.0,131.4 L1884.5,131.6 L1887.0,131.8 L1889.6,132.0 L1892.1,132.2 L1894.6,132.5 L1897.1,132.7 L1899.6,132.9 L1902.1,133.1 L1904.6,133.3 L1907.1,133.5 L1909.7,133.7 L1912.2,133.9 L1914.7,134.1 L1917.2,134.3 L1919.7,134.5 L1922.2,134.7 L1924.7,134.9 L1927.3,135.1 L1929.8,135.3 L1932.3,135.5 L1934.8,135.7 L1937.3,135.9 L1939.8,136.0 L1942.3,136.2 L1944.9,136.4 L1947.4,136.6 L1949.9,136.8 L1952.4,136.9 L1954.9,137.1 L1957.4,137.3 L1959.9,137.5 L1962.5,137.6 L1965.0,137.8 L1967.5,138.0 L1970.0,138.1 L1972.5,138.3 L1975.0,138.5 L1977.5,138.6 L1980.1,138.8 L1982.6,139.0 L1985.1,139.1 L1987.6,139.3 L1990.1,139.4 L1992.6,139.6 L1995.2,139.7 L1997.7,139.9 L2000.2,140.0 L2002.7,140.2 L2005.2,140.3 L2007.7,140.5 L2010.3,140.6 L2012.8,140.7 L2015.3,140.9 L2017.8,141.0 L2020.3,141.1 L2022.9,141.3 L2025.4,141.4 L2027.9,141.5 L2030.4,141.6 L2032.9,141.8 L2035.4,141.9 L2038.0,142.0 L2040.5,142.1 L2043.0,142.2"/>
<path class="hk" stroke="#fde725" d="M2043.0,142.2v5"/>
<path class="cv" stroke="#35b779" d="M1506.0,640.0 L1506.0,637.3 L1506.0,634.7 L1506.1,632.0 L1506.1,629.4 L1506.1,626.7 L1506.1,624.1 L1506.1,621.4 L1506.1,618.8 L1506.2,616.1 L1506.2,613.4 L1506.2,610.8 L1506.2,608.1 L1506.2,605.5 L1506.3,602.8 L1506.3,600.2 L1506.3,597.5 L1506.3,594.9 L1506.3,592.2 L1506.4,589.5 L1506.4,586.9 L1506.4,584.2 L1506.4,581.6 L1506.4,578.9 L1506.5,576.3 L1506.5,573.6 L1506.5,570.9 L1506.5,568.3 L1506.5,565.6 L1506.6,563.0 L1506.6,560.3 L1506.6,557.7 L1506.6,555.0 L1506.6,552.4 L1506.7,549.7 L1506.7,547.0 L1506.7,544.4 L1506.7,541.7 L1506.8,539.1 L1506.8,536.4 L1506.8,533.8 L1506.8,531.1 L1506.8,528.5 L1506.9,525.8 L1506.9,523.1 L1506.9,520.5 L1506.9,517.8 L1507.0,515.2 L1507.0,512.5 L1507.0,509.9 L1507.0,507.2 L1507.1,504.6 L1507.1,501.9 L1507.1,499.2 L1507.1,496.6 L1507.2,493.9 L1507.2,491.3 L1507.2,488.6 L1507.2,486.0 L1507.3,483.3 L1507.3,480.7 L1507.3,478.0 L1507.3,475.3 L1507.4,472.7 L1507.4,470.0 L1507.4,467.4 L1507.5,464.7 L1507.5,462.1 L1507.5,459.4 L1507.5,456.7 L1507.6,454.1 L1507.6,451.4 L1507.6,448.8 L1507.6,446.1 L1507.7,443.5 L1507.7,440.8 L1507.7,438.2 L1507.8,435.5 L1507.8,432.8 L1507.8,430.2 L1507.9,427.5 L1507.9,424.9 L1507.9,422.2 L1508.0,419.6 L1508.0,416.9 L1508.0,414.3 L1508.1,411.6 L1508.1,408.9 L1508.2,406.3 L1508.2,403.6 L1508.2,401.0 L1508.3,398.3 L1508.3,395.7 L1508.4,393.0 L1508.4,390.4 L1508.5,387.7 L1508.5,385.0 L1508.6,382.4 L1508.6,379.7 L1508.7,377.1 L1508.7,374.4 L1508.8,371.8 L1508.8,369.1 L1508.9,366.5 L1508.9,363.8 L1509.0,361.1 L1509.0,358.5 L1509.1,355.8 L1509.2,353.2 L1509.2,350.5 L1509.3,347.9 L1509.3,345.2 L1509.4,342.6 L1509.5,339.9 L1509.5,337.3 L1509.6,334.6 L1509.7,331.9 L1509.7,329.3 L1509.8,326.6 L1509.9,324.0 L1509.9,321.3 L1510.0,318.7 L1510.1,316.0 L1510.1,313.4 L1510.2,310.7 L1510.3,308.0 L1510.3,305.4 L1510.4,302.7 L1510.5,300.1 L1510.6,297.4 L1510.6,294.8 L1510.7,292.1 L1510.8,289.5 L1510.9,286.8 L1511.0,284.1 L1511.1,281.5 L1511.2,278.8 L1511.3,276.2 L1511.3,273.5 L1511.4,270.9 L1511.5,268.2 L1511.6,265.6 L1511.8,262.9 L1511.9,260.3 L1512.0,257.6 L1512.1,255.0 L1512.2,252.3 L1512.3,249.7 L1512.4,247.0 L1512.6,244.4 L1512.7,241.7 L1512.9,239.0 L1513.0,236.4 L1513.2,233.7 L1513.4,231.1 L1513.5,228.4 L1513.7,225.8 L1513.9,223.1 L1514.1,220.5 L1514.3,217.8 L1514.5,215.2 L1514.7,212.6 L1514.9,209.9 L1515.1,207.3 L1515.3,204.6 L1515.5,202.0 L1515.8,199.3 L1516.0,196.7 L1516.2,194.0 L1516.4,191.4 L1516.7,188.7 L1516.9,186.1 L1517.1,183.4 L1517.4,180.8 L1517.6,178.1 L1517.8,175.5 L1518.1,172.8 L1518.3,170.2 L1518.5,167.6 L1518.7,164.9 L1519.0,162.3 L1519.2,159.6 L1519.4,157.0 L1519.7,154.3 L1520.0,151.7 L1520.3,149.0 L1520.6,146.4 L1521.0,143.8 L1521.4,141.1 L1521.8,138.5 L1522.3,135.9 L1522.8,133.3 L1523.3,130.7 L1523.9,128.1 L1524.6,125.5 L1525.3,123.0 L1526.1,120.4 L1527.0,117.9 L1527.9,115.3 L1529.0,112.9 L1530.1,110.5 L1531.2,108.2 L1532.5,105.9 L1534.1,103.8 L1535.7,101.7 L1537.5,99.6 L1539.3,97.6 L1541.1,95.6 L1542.9,93.6 L1544.7,91.6 L1546.7,89.8 L1548.7,88.1 L1550.8,86.7 L1553.1,85.4 L1555.5,84.2 L1558.1,83.2 L1560.6,82.5 L1563.2,82.0 L1565.8,81.6 L1568.5,81.3 L1571.1,81.1 L1573.8,80.9 L1576.4,80.7 L1579.1,80.6 L1581.7,80.5 L1584.4,80.3 L1587.1,80.3 L1589.7,80.2 L1592.4,80.2 L1595.0,80.2 L1597.7,80.4 L1600.3,80.5 L1603.0,80.7 L1605.6,81.0 L1608.3,81.2 L1610.9,81.5 L1613.6,81.8 L1616.2,82.1 L1618.8,82.5 L1621.4,82.9 L1624.0,83.4 L1626.6,84.0 L1629.3,84.5 L1631.9,85.0 L1634.5,85.6 L1637.1,86.1 L1639.6,86.7 L1642.2,87.3 L1644.8,88.0 L1647.4,88.6 L1650.0,89.3 L1652.5,89.9 L1655.1,90.6 L1657.7,91.2 L1660.3,91.7 L1662.9,92.3 L1665.5,92.8 L1668.1,93.2 L1670.7,93.6 L1673.4,94.0 L1676.0,94.4 L1678.6,94.8 L1681.2,95.2 L1683.9,95.5 L1686.5,95.9 L1689.2,96.2 L1691.8,96.6 L1694.4,97.0 L1697.0,97.3 L1699.7,97.7 L1702.3,98.1 L1704.9,98.5 L1707.6,98.9 L1710.2,99.3 L1712.8,99.7 L1715.4,100.2 L1718.0,100.6 L1720.7,101.0 L1723.3,101.4 L1725.9,101.8 L1728.5,102.2 L1731.2,102.6 L1733.8,103.0 L1736.4,103.4 L1739.0,103.8 L1741.7,104.2 L1744.3,104.6 L1746.9,105.0 L1749.6,105.4 L1752.2,105.8 L1754.8,106.2 L1757.4,106.5 L1760.1,106.9 L1762.7,107.2 L1765.3,107.6 L1768.0,107.9 L1770.6,108.3 L1773.2,108.6 L1775.9,108.9 L1778.5,109.2 L1781.1,109.6 L1783.8,109.9 L1786.4,110.2 L1789.1,110.5 L1791.7,110.8 L1794.3,111.2 L1797.0,111.5 L1799.6,111.8 L1802.2,112.1 L1804.9,112.4 L1807.5,112.7 L1810.2,113.0 L1812.8,113.3 L1815.4,113.6 L1818.1,113.8 L1820.7,114.1 L1823.4,114.4 L1826.0,114.7 L1828.6,115.0 L1831.3,115.3 L1833.9,115.5 L1836.6,115.8 L1839.2,116.1 L1841.9,116.4 L1844.5,116.6 L1847.1,116.9 L1849.8,117.2 L1852.4,117.4 L1855.1,117.7 L1857.7,117.9 L1860.4,118.2 L1863.0,118.4 L1865.6,118.7 L1868.3,119.0 L1870.9,119.2 L1873.6,119.5 L1876.2,119.7 L1878.9,119.9 L1881.5,120.2 L1884.2,120.4 L1886.8,120.7 L1889.4,120.9 L1892.1,121.2 L1894.7,121.4 L1897.4,121.6 L1900.0,121.9 L1902.7,122.1 L1905.3,122.4 L1908.0,122.6 L1910.6,122.8 L1913.3,123.0 L1915.9,123.3 L1918.5,123.5 L1921.2,123.7 L1923.8,124.0 L1926.5,124.2 L1929.1,124.4 L1931.8,124.6 L1934.4,124.9 L1937.1,125.1 L1939.7,125.3 L1942.4,125.5 L1945.0,125.7 L1947.7,125.9 L1950.3,126.2 L1953.0,126.4 L1955.6,126.6 L1958.2,126.8 L1960.9,127.0 L1963.5,127.2 L1966.2,127.4 L1968.8,127.6 L1971.5,127.8 L1974.1,128.0 L1976.8,128.2 L1979.4,128.4 L1982.1,128.6 L1984.7,128.8 L1987.4,129.0 L1990.0,129.2 L1992.7,129.4 L1995.3,129.6 L1998.0,129.8 L2000.6,130.0 L2003.3,130.1 L2005.9,130.3 L2008.6,130.5 L2011.2,130.7 L2013.9,130.9 L2016.5,131.1 L2019.2,131.3 L2021.8,131.5 L2024.5,131.7 L2027.1,131.9 L2029.8,132.1 L2032.4,132.3 L2035.1,132.5 L2037.7,132.7 L2040.4,132.9 L2043.0,133.1"/>
<path class="hk" stroke="#35b779" d="M2043.0,133.1v4.9"/>
<path class="cv" stroke="#31688e" d="M1505.2,640.0 L1505.2,637.3 L1505.2,634.5 L1505.3,631.8 L1505.3,629.0 L1505.3,626.3 L1505.3,623.6 L1505.3,620.8 L1505.3,618.1 L1505.4,615.3 L1505.4,612.6 L1505.4,609.9 L1505.4,607.1 L1505.4,604.4 L1505.4,601.6 L1505.5,598.9 L1505.5,596.2 L1505.5,593.4 L1505.5,590.7 L1505.5,587.9 L1505.5,585.2 L1505.5,582.5 L1505.6,579.7 L1505.6,577.0 L1505.6,574.2 L1505.6,571.5 L1505.6,568.8 L1505.6,566.0 L1505.6,563.3 L1505.6,560.5 L1505.7,557.8 L1505.7,555.1 L1505.7,552.3 L1505.7,549.6 L1505.7,546.8 L1505.7,544.1 L1505.7,541.4 L1505.7,538.6 L1505.7,535.9 L1505.7,533.1 L1505.7,530.4 L1505.8,527.7 L1505.8,524.9 L1505.8,522.2 L1505.8,519.4 L1505.8,516.7 L1505.8,514.0 L1505.8,511.2 L1505.8,508.5 L1505.8,505.7 L1505.8,503.0 L1505.9,500.3 L1505.9,497.5 L1505.9,494.8 L1505.9,492.0 L1505.9,489.3 L1505.9,486.6 L1505.9,483.8 L1505.9,481.1 L1506.0,478.3 L1506.0,475.6 L1506.0,472.9 L1506.0,470.1 L1506.0,467.4 L1506.0,464.6 L1506.1,461.9 L1506.1,459.2 L1506.1,456.4 L1506.1,453.7 L1506.1,450.9 L1506.1,448.2 L1506.2,445.5 L1506.2,442.7 L1506.2,440.0 L1506.2,437.2 L1506.2,434.5 L1506.3,431.8 L1506.3,429.0 L1506.3,426.3 L1506.3,423.5 L1506.3,420.8 L1506.3,418.1 L1506.4,415.3 L1506.4,412.6 L1506.4,409.8 L1506.4,407.1 L1506.4,404.4 L1506.5,401.6 L1506.5,398.9 L1506.5,396.1 L1506.5,393.4 L1506.5,390.7 L1506.5,387.9 L1506.5,385.2 L1506.6,382.4 L1506.6,379.7 L1506.6,377.0 L1506.6,374.2 L1506.6,371.5 L1506.6,368.7 L1506.6,366.0 L1506.7,363.3 L1506.7,360.5 L1506.7,357.8 L1506.7,355.0 L1506.7,352.3 L1506.7,349.6 L1506.8,346.8 L1506.8,344.1 L1506.8,341.3 L1506.8,338.6 L1506.8,335.9 L1506.9,333.1 L1506.9,330.4 L1506.9,327.6 L1506.9,324.9 L1507.0,322.2 L1507.0,319.4 L1507.0,316.7 L1507.1,313.9 L1507.1,311.2 L1507.1,308.5 L1507.2,305.7 L1507.2,303.0 L1507.3,300.2 L1507.3,297.5 L1507.3,294.8 L1507.4,292.0 L1507.4,289.3 L1507.5,286.6 L1507.5,283.8 L1507.6,281.1 L1507.6,278.3 L1507.7,275.6 L1507.7,272.9 L1507.8,270.1 L1507.8,267.4 L1507.9,264.6 L1507.9,261.9 L1508.0,259.2 L1508.1,256.4 L1508.1,253.7 L1508.2,250.9 L1508.2,248.2 L1508.3,245.5 L1508.4,242.7 L1508.4,240.0 L1508.5,237.2 L1508.6,234.5 L1508.6,231.8 L1508.7,229.0 L1508.8,226.3 L1508.9,223.5 L1509.0,220.8 L1509.0,218.1 L1509.1,215.3 L1509.2,212.6 L1509.3,209.8 L1509.4,207.1 L1509.5,204.4 L1509.6,201.6 L1509.7,198.9 L1509.8,196.2 L1509.9,193.4 L1510.0,190.7 L1510.2,187.9 L1510.3,185.2 L1510.4,182.5 L1510.5,179.7 L1510.7,177.0 L1510.8,174.3 L1510.9,171.5 L1511.1,168.8 L1511.2,166.1 L1511.4,163.3 L1511.6,160.6 L1511.8,157.9 L1512.1,155.1 L1512.3,152.4 L1512.5,149.7 L1512.7,146.9 L1512.9,144.2 L1513.1,141.5 L1513.3,138.7 L1513.5,136.0 L1513.7,133.3 L1513.9,130.5 L1514.2,127.8 L1514.5,125.1 L1514.9,122.4 L1515.3,119.7 L1515.7,117.0 L1516.1,114.2 L1516.6,111.5 L1517.1,108.8 L1517.6,106.1 L1518.1,103.4 L1518.6,100.7 L1519.1,98.0 L1519.7,95.3 L1520.3,92.6 L1521.0,90.0 L1521.8,87.5 L1522.8,84.9 L1523.9,82.4 L1525.2,79.9 L1526.5,77.4 L1528.0,75.1 L1529.6,72.9 L1531.2,70.8 L1533.0,68.7 L1535.0,66.7 L1537.2,64.9 L1539.4,63.4 L1541.7,62.0 L1544.2,60.7 L1546.8,59.6 L1549.4,58.8 L1552.0,58.3 L1554.7,57.9 L1557.5,57.6 L1560.2,57.4 L1563.0,57.5 L1565.7,57.8 L1568.4,58.2 L1571.1,58.6 L1573.8,59.1 L1576.5,59.7 L1579.2,60.3 L1581.8,60.9 L1584.5,61.6 L1587.1,62.3 L1589.8,63.1 L1592.4,63.9 L1595.0,64.6 L1597.7,65.3 L1600.3,66.0 L1603.0,66.6 L1605.7,67.2 L1608.3,67.8 L1611.0,68.4 L1613.7,69.0 L1616.4,69.7 L1619.0,70.3 L1621.7,70.9 L1624.4,71.5 L1627.0,72.2 L1629.7,72.9 L1632.3,73.5 L1635.0,74.1 L1637.7,74.7 L1640.4,75.2 L1643.1,75.8 L1645.8,76.3 L1648.4,76.9 L1651.1,77.4 L1653.8,78.0 L1656.5,78.5 L1659.2,79.0 L1661.9,79.6 L1664.6,80.1 L1667.3,80.6 L1670.0,81.1 L1672.7,81.5 L1675.4,82.0 L1678.1,82.5 L1680.8,82.9 L1683.5,83.4 L1686.2,83.8 L1688.9,84.3 L1691.6,84.7 L1694.3,85.2 L1697.0,85.6 L1699.7,86.0 L1702.4,86.4 L1705.1,86.8 L1707.8,87.2 L1710.5,87.6 L1713.2,88.0 L1715.9,88.4 L1718.7,88.8 L1721.4,89.1 L1724.1,89.5 L1726.8,89.9 L1729.5,90.2 L1732.2,90.6 L1735.0,91.0 L1737.7,91.3 L1740.4,91.7 L1743.1,92.0 L1745.8,92.4 L1748.5,92.7 L1751.3,93.1 L1754.0,93.4 L1756.7,93.8 L1759.4,94.1 L1762.1,94.4 L1764.9,94.8 L1767.6,95.1 L1770.3,95.5 L1773.0,95.8 L1775.7,96.1 L1778.5,96.5 L1781.2,96.8 L1783.9,97.1 L1786.6,97.4 L1789.3,97.8 L1792.1,98.1 L1794.8,98.4 L1797.5,98.7 L1800.2,99.0 L1802.9,99.4 L1805.7,99.7 L1808.4,100.0 L1811.1,100.3 L1813.8,100.6 L1816.6,100.9 L1819.3,101.2 L1822.0,101.5 L1824.7,101.9 L1827.4,102.2 L1830.2,102.5 L1832.9,102.8 L1835.6,103.1 L1838.3,103.4 L1841.1,103.7 L1843.8,104.0 L1846.5,104.4 L1849.2,104.7 L1851.9,105.0 L1854.7,105.3 L1857.4,105.6 L1860.1,105.9 L1862.8,106.2 L1865.6,106.5 L1868.3,106.8 L1871.0,107.1 L1873.7,107.4 L1876.5,107.7 L1879.2,108.0 L1881.9,108.3 L1884.6,108.5 L1887.4,108.8 L1890.1,109.1 L1892.8,109.4 L1895.5,109.6 L1898.3,109.9 L1901.0,110.2 L1903.7,110.4 L1906.4,110.7 L1909.2,111.0 L1911.9,111.2 L1914.6,111.5 L1917.4,111.7 L1920.1,112.0 L1922.8,112.2 L1925.5,112.5 L1928.3,112.7 L1931.0,113.0 L1933.7,113.2 L1936.5,113.4 L1939.2,113.7 L1941.9,113.9 L1944.6,114.2 L1947.4,114.4 L1950.1,114.6 L1952.8,114.9 L1955.6,115.1 L1958.3,115.3 L1961.0,115.5 L1963.8,115.7 L1966.5,116.0 L1969.2,116.2 L1971.9,116.4 L1974.7,116.6 L1977.4,116.8 L1980.1,117.0 L1982.9,117.2 L1985.6,117.4 L1988.3,117.7 L1991.1,117.9 L1993.8,118.1 L1996.5,118.3 L1999.3,118.5 L2002.0,118.7 L2004.7,118.9 L2007.5,119.1 L2010.2,119.3 L2012.9,119.5 L2015.7,119.7 L2018.4,119.9 L2021.1,120.1 L2023.9,120.3 L2026.6,120.5 L2029.3,120.6 L2032.1,120.8 L2034.8,121.0 L2037.5,121.2 L2040.3,121.4 L2043.0,121.6"/>
<path class="hk" stroke="#31688e" d="M2043.0,121.6v4"/>
<path class="eb" stroke="#fde725" d="M1568.8,120.4V128.8M1561.6,120.4h14.5M1561.6,128.8h14.5M1632.9,110.2V117.4M1625.7,110.2h14.5M1625.7,117.4h14.5M1697.0,110.2V118.0M1689.8,110.2h14.5M1689.8,118.0h14.5M1761.1,114.5V124.5M1753.9,114.5h14.5M1753.9,124.5h14.5M1825.2,120.0V131.7M1818.0,120.0h14.5M1818.0,131.7h14.5M1889.4,125.5V138.3M1882.1,125.5h14.5M1882.1,138.3h14.5M1953.5,129.3V144.3M1946.2,129.3h14.5M1946.2,144.3h14.5M2017.6,133.9V147.8M2010.3,133.9h14.5M2010.3,147.8h14.5"/>
<path class="eb" stroke="#35b779" d="M1568.8,79.6V84.0M1561.6,79.6h14.5M1561.6,84.0h14.5M1632.9,81.5V89.0M1625.7,81.5h14.5M1625.7,89.0h14.5M1697.0,91.8V101.6M1689.8,91.8h14.5M1689.8,101.6h14.5M1761.1,101.9V112.5M1753.9,101.9h14.5M1753.9,112.5h14.5M1825.2,110.3V119.0M1818.0,110.3h14.5M1818.0,119.0h14.5M1889.4,116.2V125.3M1882.1,116.2h14.5M1882.1,125.3h14.5M1953.5,121.7V130.7M1946.2,121.7h14.5M1946.2,130.7h14.5M2017.6,126.4V135.9M2010.3,126.4h14.5M2010.3,135.9h14.5"/>
<path class="eb" stroke="#31688e" d="M1568.8,54.4V62.3M1561.6,54.4h14.5M1561.6,62.3h14.5M1632.9,72.3V74.9M1625.7,72.3h14.5M1625.7,74.9h14.5M1697.0,84.3V86.9M1689.8,84.3h14.5M1689.8,86.9h14.5M1761.1,91.6V97.2M1753.9,91.6h14.5M1753.9,97.2h14.5M1825.2,98.4V105.4M1818.0,98.4h14.5M1818.0,105.4h14.5M1889.4,104.6V113.8M1882.1,104.6h14.5M1882.1,113.8h14.5M1953.5,110.3V119.6M1946.2,110.3h14.5M1946.2,119.6h14.5M2017.6,115.4V124.5M2010.3,115.4h14.5M2010.3,124.5h14.5"/>
</g>
<text transform="translate(1504.7 685.8) scale(1 1.035)" text-anchor="middle">0</text>
<text transform="translate(1665.0 685.8) scale(1 1.035)" text-anchor="middle">50</text>
<text transform="translate(1825.2 685.8) scale(1 1.035)" text-anchor="middle">100</text>
<text transform="translate(1985.5 685.8) scale(1 1.035)" text-anchor="middle">150</text>
<text transform="translate(1471.5 648.4) scale(1 1.035)" text-anchor="end">2.9</text>
<text transform="translate(1471.5 494.3) scale(1 1.035)" text-anchor="end">3.0</text>
<text transform="translate(1471.5 340.1) scale(1 1.035)" text-anchor="end">3.1</text>
<text transform="translate(1471.5 186.0) scale(1 1.035)" text-anchor="end">3.2</text>
<text transform="translate(1471.5 31.9) scale(1 1.035)" text-anchor="end">3.3</text>
<text transform="translate(1492.3 66.3) scale(1 1.02)">c)</text>
<text transform="translate(1778.0 766.5) scale(1 1.02)" text-anchor="middle">Time <tspan font-style="italic">t</tspan> in h <tspan class="ar" dy="6.3">→</tspan></text>
<rect class="lg" x="1676.5" y="425.7" width="370.8" height="179.8"/>
<path class="ll" stroke="#fde725" d="M1685.2,457.9H1785.9"/>
<text transform="translate(1800.0 473.9) scale(1 1.02)">1 x Ø 20 mm</text>
<path class="ll" stroke="#35b779" d="M1685.2,515.6H1785.9"/>
<text transform="translate(1800.0 531.6) scale(1 1.02)">4 x Ø 10 mm</text>
<path class="ll" stroke="#31688e" d="M1685.2,573.3H1785.9"/>
<text transform="translate(1800.0 589.3) scale(1 1.02)">8 x Ø 7 mm</text>
</g>
<text transform="translate(33.0 325.3) rotate(-90) scale(1 1.02)" text-anchor="middle" letter-spacing="0.2">Voltage <tspan font-style="italic">U</tspan> in V <tspan class="ar ar2" dy="7.5">→</tspan></text>
</svg></body></html>
